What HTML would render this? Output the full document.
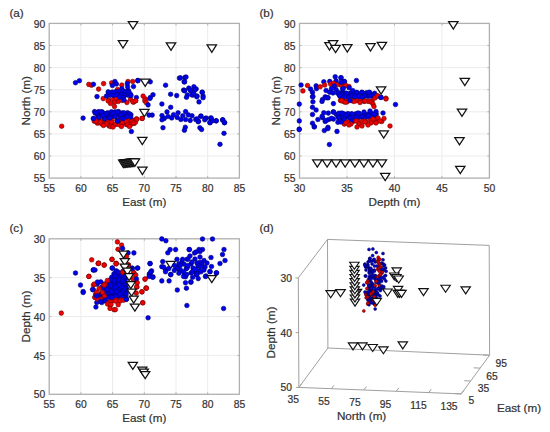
<!DOCTYPE html><html><head><meta charset="utf-8"><style>html,body{margin:0;padding:0;background:#fff;}svg{display:block;font-family:"Liberation Sans",sans-serif;}text{stroke:#333;stroke-width:0.22px;}</style></head><body>
<svg width="550" height="432" viewBox="0 0 550 432">
<rect width="550" height="432" fill="#fff"/>
<line x1="80.90" y1="23.4" x2="80.90" y2="178.1" stroke="#ececec" stroke-width="1"/>
<line x1="112.60" y1="23.4" x2="112.60" y2="178.1" stroke="#ececec" stroke-width="1"/>
<line x1="144.30" y1="23.4" x2="144.30" y2="178.1" stroke="#ececec" stroke-width="1"/>
<line x1="176.00" y1="23.4" x2="176.00" y2="178.1" stroke="#ececec" stroke-width="1"/>
<line x1="207.70" y1="23.4" x2="207.70" y2="178.1" stroke="#ececec" stroke-width="1"/>
<line x1="49.2" y1="45.50" x2="239.4" y2="45.50" stroke="#ececec" stroke-width="1"/>
<line x1="49.2" y1="67.60" x2="239.4" y2="67.60" stroke="#ececec" stroke-width="1"/>
<line x1="49.2" y1="89.70" x2="239.4" y2="89.70" stroke="#ececec" stroke-width="1"/>
<line x1="49.2" y1="111.80" x2="239.4" y2="111.80" stroke="#ececec" stroke-width="1"/>
<line x1="49.2" y1="133.90" x2="239.4" y2="133.90" stroke="#ececec" stroke-width="1"/>
<line x1="49.2" y1="156.00" x2="239.4" y2="156.00" stroke="#ececec" stroke-width="1"/>
<rect x="49.2" y="23.4" width="190.2" height="154.7" fill="none" stroke="#b0b0b0" stroke-width="1.3"/>
<line x1="80.90" y1="178.1" x2="80.90" y2="176.1" stroke="#b0b0b0" stroke-width="1"/>
<line x1="80.90" y1="23.4" x2="80.90" y2="25.4" stroke="#b0b0b0" stroke-width="1"/>
<line x1="112.60" y1="178.1" x2="112.60" y2="176.1" stroke="#b0b0b0" stroke-width="1"/>
<line x1="112.60" y1="23.4" x2="112.60" y2="25.4" stroke="#b0b0b0" stroke-width="1"/>
<line x1="144.30" y1="178.1" x2="144.30" y2="176.1" stroke="#b0b0b0" stroke-width="1"/>
<line x1="144.30" y1="23.4" x2="144.30" y2="25.4" stroke="#b0b0b0" stroke-width="1"/>
<line x1="176.00" y1="178.1" x2="176.00" y2="176.1" stroke="#b0b0b0" stroke-width="1"/>
<line x1="176.00" y1="23.4" x2="176.00" y2="25.4" stroke="#b0b0b0" stroke-width="1"/>
<line x1="207.70" y1="178.1" x2="207.70" y2="176.1" stroke="#b0b0b0" stroke-width="1"/>
<line x1="207.70" y1="23.4" x2="207.70" y2="25.4" stroke="#b0b0b0" stroke-width="1"/>
<line x1="49.2" y1="45.50" x2="51.2" y2="45.50" stroke="#b0b0b0" stroke-width="1"/>
<line x1="239.4" y1="45.50" x2="237.4" y2="45.50" stroke="#b0b0b0" stroke-width="1"/>
<line x1="49.2" y1="67.60" x2="51.2" y2="67.60" stroke="#b0b0b0" stroke-width="1"/>
<line x1="239.4" y1="67.60" x2="237.4" y2="67.60" stroke="#b0b0b0" stroke-width="1"/>
<line x1="49.2" y1="89.70" x2="51.2" y2="89.70" stroke="#b0b0b0" stroke-width="1"/>
<line x1="239.4" y1="89.70" x2="237.4" y2="89.70" stroke="#b0b0b0" stroke-width="1"/>
<line x1="49.2" y1="111.80" x2="51.2" y2="111.80" stroke="#b0b0b0" stroke-width="1"/>
<line x1="239.4" y1="111.80" x2="237.4" y2="111.80" stroke="#b0b0b0" stroke-width="1"/>
<line x1="49.2" y1="133.90" x2="51.2" y2="133.90" stroke="#b0b0b0" stroke-width="1"/>
<line x1="239.4" y1="133.90" x2="237.4" y2="133.90" stroke="#b0b0b0" stroke-width="1"/>
<line x1="49.2" y1="156.00" x2="51.2" y2="156.00" stroke="#b0b0b0" stroke-width="1"/>
<line x1="239.4" y1="156.00" x2="237.4" y2="156.00" stroke="#b0b0b0" stroke-width="1"/>
<text x="49.20" y="191.90" font-size="10.3" text-anchor="middle" fill="#333333">55</text>
<text x="80.90" y="191.90" font-size="10.3" text-anchor="middle" fill="#333333">60</text>
<text x="112.60" y="191.90" font-size="10.3" text-anchor="middle" fill="#333333">65</text>
<text x="144.30" y="191.90" font-size="10.3" text-anchor="middle" fill="#333333">70</text>
<text x="176.00" y="191.90" font-size="10.3" text-anchor="middle" fill="#333333">75</text>
<text x="207.70" y="191.90" font-size="10.3" text-anchor="middle" fill="#333333">80</text>
<text x="239.40" y="191.90" font-size="10.3" text-anchor="middle" fill="#333333">85</text>
<text x="45.20" y="27.50" font-size="10.3" text-anchor="end" fill="#333333">90</text>
<text x="45.20" y="49.60" font-size="10.3" text-anchor="end" fill="#333333">85</text>
<text x="45.20" y="71.70" font-size="10.3" text-anchor="end" fill="#333333">80</text>
<text x="45.20" y="93.80" font-size="10.3" text-anchor="end" fill="#333333">75</text>
<text x="45.20" y="115.90" font-size="10.3" text-anchor="end" fill="#333333">70</text>
<text x="45.20" y="138.00" font-size="10.3" text-anchor="end" fill="#333333">65</text>
<text x="45.20" y="160.10" font-size="10.3" text-anchor="end" fill="#333333">60</text>
<text x="45.20" y="182.20" font-size="10.3" text-anchor="end" fill="#333333">55</text>
<text x="144.30" y="206.00" font-size="11.7" text-anchor="middle" fill="#333333">East (m)</text>
<text transform="translate(29.60,100.75) rotate(-90)" font-size="11.7" text-anchor="middle" fill="#333333">North (m)</text>
<text x="9.4" y="17.2" font-size="11.7" fill="#333333">(a)</text>
<line x1="346.98" y1="23.4" x2="346.98" y2="178.1" stroke="#ececec" stroke-width="1"/>
<line x1="394.45" y1="23.4" x2="394.45" y2="178.1" stroke="#ececec" stroke-width="1"/>
<line x1="441.92" y1="23.4" x2="441.92" y2="178.1" stroke="#ececec" stroke-width="1"/>
<line x1="299.5" y1="45.50" x2="489.4" y2="45.50" stroke="#ececec" stroke-width="1"/>
<line x1="299.5" y1="67.60" x2="489.4" y2="67.60" stroke="#ececec" stroke-width="1"/>
<line x1="299.5" y1="89.70" x2="489.4" y2="89.70" stroke="#ececec" stroke-width="1"/>
<line x1="299.5" y1="111.80" x2="489.4" y2="111.80" stroke="#ececec" stroke-width="1"/>
<line x1="299.5" y1="133.90" x2="489.4" y2="133.90" stroke="#ececec" stroke-width="1"/>
<line x1="299.5" y1="156.00" x2="489.4" y2="156.00" stroke="#ececec" stroke-width="1"/>
<rect x="299.5" y="23.4" width="189.89999999999998" height="154.7" fill="none" stroke="#b0b0b0" stroke-width="1.3"/>
<line x1="346.98" y1="178.1" x2="346.98" y2="176.1" stroke="#b0b0b0" stroke-width="1"/>
<line x1="346.98" y1="23.4" x2="346.98" y2="25.4" stroke="#b0b0b0" stroke-width="1"/>
<line x1="394.45" y1="178.1" x2="394.45" y2="176.1" stroke="#b0b0b0" stroke-width="1"/>
<line x1="394.45" y1="23.4" x2="394.45" y2="25.4" stroke="#b0b0b0" stroke-width="1"/>
<line x1="441.92" y1="178.1" x2="441.92" y2="176.1" stroke="#b0b0b0" stroke-width="1"/>
<line x1="441.92" y1="23.4" x2="441.92" y2="25.4" stroke="#b0b0b0" stroke-width="1"/>
<line x1="299.5" y1="45.50" x2="301.5" y2="45.50" stroke="#b0b0b0" stroke-width="1"/>
<line x1="489.4" y1="45.50" x2="487.4" y2="45.50" stroke="#b0b0b0" stroke-width="1"/>
<line x1="299.5" y1="67.60" x2="301.5" y2="67.60" stroke="#b0b0b0" stroke-width="1"/>
<line x1="489.4" y1="67.60" x2="487.4" y2="67.60" stroke="#b0b0b0" stroke-width="1"/>
<line x1="299.5" y1="89.70" x2="301.5" y2="89.70" stroke="#b0b0b0" stroke-width="1"/>
<line x1="489.4" y1="89.70" x2="487.4" y2="89.70" stroke="#b0b0b0" stroke-width="1"/>
<line x1="299.5" y1="111.80" x2="301.5" y2="111.80" stroke="#b0b0b0" stroke-width="1"/>
<line x1="489.4" y1="111.80" x2="487.4" y2="111.80" stroke="#b0b0b0" stroke-width="1"/>
<line x1="299.5" y1="133.90" x2="301.5" y2="133.90" stroke="#b0b0b0" stroke-width="1"/>
<line x1="489.4" y1="133.90" x2="487.4" y2="133.90" stroke="#b0b0b0" stroke-width="1"/>
<line x1="299.5" y1="156.00" x2="301.5" y2="156.00" stroke="#b0b0b0" stroke-width="1"/>
<line x1="489.4" y1="156.00" x2="487.4" y2="156.00" stroke="#b0b0b0" stroke-width="1"/>
<text x="299.50" y="191.90" font-size="10.3" text-anchor="middle" fill="#333333">30</text>
<text x="346.98" y="191.90" font-size="10.3" text-anchor="middle" fill="#333333">35</text>
<text x="394.45" y="191.90" font-size="10.3" text-anchor="middle" fill="#333333">40</text>
<text x="441.92" y="191.90" font-size="10.3" text-anchor="middle" fill="#333333">45</text>
<text x="489.40" y="191.90" font-size="10.3" text-anchor="middle" fill="#333333">50</text>
<text x="295.50" y="27.50" font-size="10.3" text-anchor="end" fill="#333333">90</text>
<text x="295.50" y="49.60" font-size="10.3" text-anchor="end" fill="#333333">85</text>
<text x="295.50" y="71.70" font-size="10.3" text-anchor="end" fill="#333333">80</text>
<text x="295.50" y="93.80" font-size="10.3" text-anchor="end" fill="#333333">75</text>
<text x="295.50" y="115.90" font-size="10.3" text-anchor="end" fill="#333333">70</text>
<text x="295.50" y="138.00" font-size="10.3" text-anchor="end" fill="#333333">65</text>
<text x="295.50" y="160.10" font-size="10.3" text-anchor="end" fill="#333333">60</text>
<text x="295.50" y="182.20" font-size="10.3" text-anchor="end" fill="#333333">55</text>
<text x="394.45" y="206.00" font-size="11.7" text-anchor="middle" fill="#333333">Depth (m)</text>
<text transform="translate(279.60,100.75) rotate(-90)" font-size="11.7" text-anchor="middle" fill="#333333">North (m)</text>
<text x="259.4" y="17.2" font-size="11.7" fill="#333333">(b)</text>
<line x1="80.90" y1="238.8" x2="80.90" y2="394.3" stroke="#ececec" stroke-width="1"/>
<line x1="112.60" y1="238.8" x2="112.60" y2="394.3" stroke="#ececec" stroke-width="1"/>
<line x1="144.30" y1="238.8" x2="144.30" y2="394.3" stroke="#ececec" stroke-width="1"/>
<line x1="176.00" y1="238.8" x2="176.00" y2="394.3" stroke="#ececec" stroke-width="1"/>
<line x1="207.70" y1="238.8" x2="207.70" y2="394.3" stroke="#ececec" stroke-width="1"/>
<line x1="49.2" y1="277.68" x2="239.4" y2="277.68" stroke="#ececec" stroke-width="1"/>
<line x1="49.2" y1="316.55" x2="239.4" y2="316.55" stroke="#ececec" stroke-width="1"/>
<line x1="49.2" y1="355.43" x2="239.4" y2="355.43" stroke="#ececec" stroke-width="1"/>
<rect x="49.2" y="238.8" width="190.2" height="155.5" fill="none" stroke="#b0b0b0" stroke-width="1.3"/>
<line x1="80.90" y1="394.3" x2="80.90" y2="392.3" stroke="#b0b0b0" stroke-width="1"/>
<line x1="80.90" y1="238.8" x2="80.90" y2="240.8" stroke="#b0b0b0" stroke-width="1"/>
<line x1="112.60" y1="394.3" x2="112.60" y2="392.3" stroke="#b0b0b0" stroke-width="1"/>
<line x1="112.60" y1="238.8" x2="112.60" y2="240.8" stroke="#b0b0b0" stroke-width="1"/>
<line x1="144.30" y1="394.3" x2="144.30" y2="392.3" stroke="#b0b0b0" stroke-width="1"/>
<line x1="144.30" y1="238.8" x2="144.30" y2="240.8" stroke="#b0b0b0" stroke-width="1"/>
<line x1="176.00" y1="394.3" x2="176.00" y2="392.3" stroke="#b0b0b0" stroke-width="1"/>
<line x1="176.00" y1="238.8" x2="176.00" y2="240.8" stroke="#b0b0b0" stroke-width="1"/>
<line x1="207.70" y1="394.3" x2="207.70" y2="392.3" stroke="#b0b0b0" stroke-width="1"/>
<line x1="207.70" y1="238.8" x2="207.70" y2="240.8" stroke="#b0b0b0" stroke-width="1"/>
<line x1="49.2" y1="277.68" x2="51.2" y2="277.68" stroke="#b0b0b0" stroke-width="1"/>
<line x1="239.4" y1="277.68" x2="237.4" y2="277.68" stroke="#b0b0b0" stroke-width="1"/>
<line x1="49.2" y1="316.55" x2="51.2" y2="316.55" stroke="#b0b0b0" stroke-width="1"/>
<line x1="239.4" y1="316.55" x2="237.4" y2="316.55" stroke="#b0b0b0" stroke-width="1"/>
<line x1="49.2" y1="355.43" x2="51.2" y2="355.43" stroke="#b0b0b0" stroke-width="1"/>
<line x1="239.4" y1="355.43" x2="237.4" y2="355.43" stroke="#b0b0b0" stroke-width="1"/>
<text x="49.20" y="408.10" font-size="10.3" text-anchor="middle" fill="#333333">55</text>
<text x="80.90" y="408.10" font-size="10.3" text-anchor="middle" fill="#333333">60</text>
<text x="112.60" y="408.10" font-size="10.3" text-anchor="middle" fill="#333333">65</text>
<text x="144.30" y="408.10" font-size="10.3" text-anchor="middle" fill="#333333">70</text>
<text x="176.00" y="408.10" font-size="10.3" text-anchor="middle" fill="#333333">75</text>
<text x="207.70" y="408.10" font-size="10.3" text-anchor="middle" fill="#333333">80</text>
<text x="239.40" y="408.10" font-size="10.3" text-anchor="middle" fill="#333333">85</text>
<text x="45.20" y="242.90" font-size="10.3" text-anchor="end" fill="#333333">30</text>
<text x="45.20" y="281.78" font-size="10.3" text-anchor="end" fill="#333333">35</text>
<text x="45.20" y="320.65" font-size="10.3" text-anchor="end" fill="#333333">40</text>
<text x="45.20" y="359.53" font-size="10.3" text-anchor="end" fill="#333333">45</text>
<text x="45.20" y="398.40" font-size="10.3" text-anchor="end" fill="#333333">50</text>
<text x="144.30" y="422.00" font-size="11.7" text-anchor="middle" fill="#333333">East (m)</text>
<text transform="translate(29.60,316.55) rotate(-90)" font-size="11.7" text-anchor="middle" fill="#333333">Depth (m)</text>
<text x="9.4" y="232.4" font-size="11.7" fill="#333333">(c)</text>
<circle cx="94.6" cy="120.4" r="2.3" fill="#f00000" stroke="#700000" stroke-width="0.6"/>
<circle cx="99.0" cy="120.5" r="2.3" fill="#f00000" stroke="#700000" stroke-width="0.6"/>
<circle cx="103.6" cy="119.6" r="2.3" fill="#f00000" stroke="#700000" stroke-width="0.6"/>
<circle cx="106.8" cy="120.8" r="2.3" fill="#f00000" stroke="#700000" stroke-width="0.6"/>
<circle cx="111.4" cy="119.9" r="2.3" fill="#f00000" stroke="#700000" stroke-width="0.6"/>
<circle cx="116.8" cy="120.3" r="2.3" fill="#f00000" stroke="#700000" stroke-width="0.6"/>
<circle cx="120.7" cy="120.3" r="2.3" fill="#f00000" stroke="#700000" stroke-width="0.6"/>
<circle cx="124.6" cy="119.7" r="2.3" fill="#f00000" stroke="#700000" stroke-width="0.6"/>
<circle cx="128.8" cy="120.9" r="2.3" fill="#f00000" stroke="#700000" stroke-width="0.6"/>
<circle cx="132.8" cy="120.7" r="2.3" fill="#f00000" stroke="#700000" stroke-width="0.6"/>
<circle cx="97.4" cy="123.2" r="2.3" fill="#f00000" stroke="#700000" stroke-width="0.6"/>
<circle cx="101.7" cy="124.0" r="2.3" fill="#f00000" stroke="#700000" stroke-width="0.6"/>
<circle cx="105.2" cy="123.1" r="2.3" fill="#f00000" stroke="#700000" stroke-width="0.6"/>
<circle cx="110.3" cy="123.8" r="2.3" fill="#f00000" stroke="#700000" stroke-width="0.6"/>
<circle cx="114.3" cy="124.5" r="2.3" fill="#f00000" stroke="#700000" stroke-width="0.6"/>
<circle cx="118.4" cy="124.5" r="2.3" fill="#f00000" stroke="#700000" stroke-width="0.6"/>
<circle cx="122.1" cy="124.4" r="2.3" fill="#f00000" stroke="#700000" stroke-width="0.6"/>
<circle cx="126.4" cy="124.6" r="2.3" fill="#f00000" stroke="#700000" stroke-width="0.6"/>
<circle cx="131.3" cy="123.2" r="2.3" fill="#f00000" stroke="#700000" stroke-width="0.6"/>
<circle cx="134.3" cy="123.4" r="2.3" fill="#f00000" stroke="#700000" stroke-width="0.6"/>
<circle cx="94.6" cy="111.6" r="2.3" fill="#0000f0" stroke="#000070" stroke-width="0.6"/>
<circle cx="98.8" cy="111.6" r="2.3" fill="#0000f0" stroke="#000070" stroke-width="0.6"/>
<circle cx="102.3" cy="112.0" r="2.3" fill="#0000f0" stroke="#000070" stroke-width="0.6"/>
<circle cx="107.7" cy="112.7" r="2.3" fill="#0000f0" stroke="#000070" stroke-width="0.6"/>
<circle cx="111.4" cy="111.8" r="2.3" fill="#0000f0" stroke="#000070" stroke-width="0.6"/>
<circle cx="115.1" cy="111.8" r="2.3" fill="#0000f0" stroke="#000070" stroke-width="0.6"/>
<circle cx="118.5" cy="111.6" r="2.3" fill="#0000f0" stroke="#000070" stroke-width="0.6"/>
<circle cx="122.5" cy="112.9" r="2.3" fill="#0000f0" stroke="#000070" stroke-width="0.6"/>
<circle cx="127.5" cy="112.7" r="2.3" fill="#0000f0" stroke="#000070" stroke-width="0.6"/>
<circle cx="97.5" cy="115.1" r="2.3" fill="#0000f0" stroke="#000070" stroke-width="0.6"/>
<circle cx="100.7" cy="115.8" r="2.3" fill="#0000f0" stroke="#000070" stroke-width="0.6"/>
<circle cx="105.4" cy="116.2" r="2.3" fill="#0000f0" stroke="#000070" stroke-width="0.6"/>
<circle cx="109.6" cy="114.9" r="2.3" fill="#0000f0" stroke="#000070" stroke-width="0.6"/>
<circle cx="113.2" cy="115.9" r="2.3" fill="#0000f0" stroke="#000070" stroke-width="0.6"/>
<circle cx="117.0" cy="115.1" r="2.3" fill="#0000f0" stroke="#000070" stroke-width="0.6"/>
<circle cx="121.0" cy="114.9" r="2.3" fill="#0000f0" stroke="#000070" stroke-width="0.6"/>
<circle cx="125.7" cy="116.2" r="2.3" fill="#0000f0" stroke="#000070" stroke-width="0.6"/>
<circle cx="129.1" cy="115.3" r="2.3" fill="#0000f0" stroke="#000070" stroke-width="0.6"/>
<circle cx="108.2" cy="91.9" r="2.3" fill="#0000f0" stroke="#000070" stroke-width="0.6"/>
<circle cx="112.5" cy="92.2" r="2.3" fill="#0000f0" stroke="#000070" stroke-width="0.6"/>
<circle cx="116.4" cy="92.2" r="2.3" fill="#0000f0" stroke="#000070" stroke-width="0.6"/>
<circle cx="119.2" cy="91.4" r="2.3" fill="#0000f0" stroke="#000070" stroke-width="0.6"/>
<circle cx="124.7" cy="91.7" r="2.3" fill="#0000f0" stroke="#000070" stroke-width="0.6"/>
<circle cx="128.6" cy="90.9" r="2.3" fill="#0000f0" stroke="#000070" stroke-width="0.6"/>
<circle cx="110.0" cy="94.5" r="2.3" fill="#0000f0" stroke="#000070" stroke-width="0.6"/>
<circle cx="114.1" cy="95.0" r="2.3" fill="#0000f0" stroke="#000070" stroke-width="0.6"/>
<circle cx="117.2" cy="94.4" r="2.3" fill="#0000f0" stroke="#000070" stroke-width="0.6"/>
<circle cx="121.6" cy="95.6" r="2.3" fill="#0000f0" stroke="#000070" stroke-width="0.6"/>
<circle cx="126.4" cy="94.4" r="2.3" fill="#0000f0" stroke="#000070" stroke-width="0.6"/>
<circle cx="130.5" cy="94.3" r="2.3" fill="#0000f0" stroke="#000070" stroke-width="0.6"/>
<circle cx="75.5" cy="82.7" r="2.3" fill="#0000f0" stroke="#000070" stroke-width="0.6"/>
<circle cx="79.4" cy="80.7" r="2.3" fill="#0000f0" stroke="#000070" stroke-width="0.6"/>
<circle cx="88.8" cy="84.4" r="2.3" fill="#f00000" stroke="#700000" stroke-width="0.6"/>
<circle cx="91.4" cy="85.3" r="2.3" fill="#f00000" stroke="#700000" stroke-width="0.6"/>
<circle cx="93.4" cy="84.3" r="2.3" fill="#0000f0" stroke="#000070" stroke-width="0.6"/>
<circle cx="103.6" cy="83.6" r="2.3" fill="#f00000" stroke="#700000" stroke-width="0.6"/>
<circle cx="98.6" cy="89.1" r="2.3" fill="#f00000" stroke="#700000" stroke-width="0.6"/>
<circle cx="97.0" cy="96.6" r="2.3" fill="#0000f0" stroke="#000070" stroke-width="0.6"/>
<circle cx="103.2" cy="98.6" r="2.3" fill="#f00000" stroke="#700000" stroke-width="0.6"/>
<circle cx="111.6" cy="82.9" r="2.3" fill="#f00000" stroke="#700000" stroke-width="0.6"/>
<circle cx="114.9" cy="81.5" r="2.3" fill="#0000f0" stroke="#000070" stroke-width="0.6"/>
<circle cx="116.4" cy="84.0" r="2.3" fill="#0000f0" stroke="#000070" stroke-width="0.6"/>
<circle cx="112.4" cy="85.5" r="2.3" fill="#0000f0" stroke="#000070" stroke-width="0.6"/>
<circle cx="121.8" cy="85.1" r="2.3" fill="#f00000" stroke="#700000" stroke-width="0.6"/>
<circle cx="117.5" cy="89.5" r="2.3" fill="#f00000" stroke="#700000" stroke-width="0.6"/>
<circle cx="121.8" cy="88.7" r="2.3" fill="#0000f0" stroke="#000070" stroke-width="0.6"/>
<circle cx="128.0" cy="81.5" r="2.3" fill="#f00000" stroke="#700000" stroke-width="0.6"/>
<circle cx="127.3" cy="83.6" r="2.3" fill="#0000f0" stroke="#000070" stroke-width="0.6"/>
<circle cx="127.6" cy="86.9" r="2.3" fill="#0000f0" stroke="#000070" stroke-width="0.6"/>
<circle cx="132.7" cy="81.5" r="2.3" fill="#f00000" stroke="#700000" stroke-width="0.6"/>
<circle cx="137.8" cy="80.4" r="2.3" fill="#0000f0" stroke="#000070" stroke-width="0.6"/>
<circle cx="133.5" cy="86.5" r="2.3" fill="#0000f0" stroke="#000070" stroke-width="0.6"/>
<circle cx="108.7" cy="100.0" r="2.3" fill="#f00000" stroke="#700000" stroke-width="0.6"/>
<circle cx="113.5" cy="99.3" r="2.3" fill="#f00000" stroke="#700000" stroke-width="0.6"/>
<circle cx="118.2" cy="101.5" r="2.3" fill="#f00000" stroke="#700000" stroke-width="0.6"/>
<circle cx="114.5" cy="102.2" r="2.3" fill="#f00000" stroke="#700000" stroke-width="0.6"/>
<circle cx="114.5" cy="106.5" r="2.3" fill="#f00000" stroke="#700000" stroke-width="0.6"/>
<circle cx="126.9" cy="102.5" r="2.3" fill="#f00000" stroke="#700000" stroke-width="0.6"/>
<circle cx="130.5" cy="99.3" r="2.3" fill="#f00000" stroke="#700000" stroke-width="0.6"/>
<circle cx="133.5" cy="102.2" r="2.3" fill="#f00000" stroke="#700000" stroke-width="0.6"/>
<circle cx="135.6" cy="100.7" r="2.3" fill="#f00000" stroke="#700000" stroke-width="0.6"/>
<circle cx="108.1" cy="100.9" r="2.3" fill="#f00000" stroke="#700000" stroke-width="0.6"/>
<circle cx="110.5" cy="103.5" r="2.3" fill="#f00000" stroke="#700000" stroke-width="0.6"/>
<circle cx="122.0" cy="100.5" r="2.3" fill="#f00000" stroke="#700000" stroke-width="0.6"/>
<circle cx="116.0" cy="98.5" r="2.3" fill="#f00000" stroke="#700000" stroke-width="0.6"/>
<circle cx="108.7" cy="93.0" r="2.3" fill="#0000f0" stroke="#000070" stroke-width="0.6"/>
<circle cx="112.0" cy="92.3" r="2.3" fill="#0000f0" stroke="#000070" stroke-width="0.6"/>
<circle cx="115.6" cy="91.7" r="2.3" fill="#0000f0" stroke="#000070" stroke-width="0.6"/>
<circle cx="118.9" cy="91.3" r="2.3" fill="#0000f0" stroke="#000070" stroke-width="0.6"/>
<circle cx="122.5" cy="90.9" r="2.3" fill="#0000f0" stroke="#000070" stroke-width="0.6"/>
<circle cx="126.2" cy="91.7" r="2.3" fill="#0000f0" stroke="#000070" stroke-width="0.6"/>
<circle cx="129.1" cy="92.5" r="2.3" fill="#0000f0" stroke="#000070" stroke-width="0.6"/>
<circle cx="110.2" cy="95.3" r="2.3" fill="#0000f0" stroke="#000070" stroke-width="0.6"/>
<circle cx="113.8" cy="95.3" r="2.3" fill="#0000f0" stroke="#000070" stroke-width="0.6"/>
<circle cx="117.5" cy="94.9" r="2.3" fill="#0000f0" stroke="#000070" stroke-width="0.6"/>
<circle cx="121.1" cy="94.5" r="2.3" fill="#0000f0" stroke="#000070" stroke-width="0.6"/>
<circle cx="124.7" cy="95.3" r="2.3" fill="#0000f0" stroke="#000070" stroke-width="0.6"/>
<circle cx="128.4" cy="95.3" r="2.3" fill="#0000f0" stroke="#000070" stroke-width="0.6"/>
<circle cx="119.6" cy="97.1" r="2.3" fill="#0000f0" stroke="#000070" stroke-width="0.6"/>
<circle cx="123.3" cy="97.5" r="2.3" fill="#0000f0" stroke="#000070" stroke-width="0.6"/>
<circle cx="124.0" cy="100.0" r="2.3" fill="#0000f0" stroke="#000070" stroke-width="0.6"/>
<circle cx="106.5" cy="96.0" r="2.3" fill="#0000f0" stroke="#000070" stroke-width="0.6"/>
<circle cx="131.0" cy="95.5" r="2.3" fill="#0000f0" stroke="#000070" stroke-width="0.6"/>
<circle cx="136.4" cy="97.5" r="2.3" fill="#0000f0" stroke="#000070" stroke-width="0.6"/>
<circle cx="137.8" cy="80.8" r="2.3" fill="#0000f0" stroke="#000070" stroke-width="0.6"/>
<circle cx="150.3" cy="81.8" r="2.3" fill="#0000f0" stroke="#000070" stroke-width="0.6"/>
<circle cx="165.6" cy="85.2" r="2.3" fill="#0000f0" stroke="#000070" stroke-width="0.6"/>
<circle cx="179.4" cy="78.1" r="2.3" fill="#0000f0" stroke="#000070" stroke-width="0.6"/>
<circle cx="184.1" cy="81.8" r="2.3" fill="#0000f0" stroke="#000070" stroke-width="0.6"/>
<circle cx="185.0" cy="77.5" r="2.3" fill="#0000f0" stroke="#000070" stroke-width="0.6"/>
<circle cx="170.6" cy="94.3" r="2.3" fill="#0000f0" stroke="#000070" stroke-width="0.6"/>
<circle cx="176.7" cy="95.6" r="2.3" fill="#0000f0" stroke="#000070" stroke-width="0.6"/>
<circle cx="183.6" cy="90.1" r="2.3" fill="#0000f0" stroke="#000070" stroke-width="0.6"/>
<circle cx="153.0" cy="94.7" r="2.3" fill="#0000f0" stroke="#000070" stroke-width="0.6"/>
<circle cx="150.3" cy="97.5" r="2.3" fill="#0000f0" stroke="#000070" stroke-width="0.6"/>
<circle cx="143.1" cy="96.1" r="2.3" fill="#f00000" stroke="#700000" stroke-width="0.6"/>
<circle cx="145.2" cy="98.9" r="2.3" fill="#f00000" stroke="#700000" stroke-width="0.6"/>
<circle cx="180.5" cy="77.9" r="2.3" fill="#0000f0" stroke="#000070" stroke-width="0.6"/>
<circle cx="186.0" cy="77.0" r="2.3" fill="#0000f0" stroke="#000070" stroke-width="0.6"/>
<circle cx="184.6" cy="81.9" r="2.3" fill="#0000f0" stroke="#000070" stroke-width="0.6"/>
<circle cx="184.6" cy="90.4" r="2.3" fill="#0000f0" stroke="#000070" stroke-width="0.6"/>
<circle cx="188.8" cy="88.1" r="2.3" fill="#0000f0" stroke="#000070" stroke-width="0.6"/>
<circle cx="193.9" cy="86.7" r="2.3" fill="#0000f0" stroke="#000070" stroke-width="0.6"/>
<circle cx="196.2" cy="89.0" r="2.3" fill="#0000f0" stroke="#000070" stroke-width="0.6"/>
<circle cx="191.1" cy="91.3" r="2.3" fill="#0000f0" stroke="#000070" stroke-width="0.6"/>
<circle cx="187.4" cy="95.0" r="2.3" fill="#0000f0" stroke="#000070" stroke-width="0.6"/>
<circle cx="193.0" cy="95.0" r="2.3" fill="#0000f0" stroke="#000070" stroke-width="0.6"/>
<circle cx="197.1" cy="96.0" r="2.3" fill="#0000f0" stroke="#000070" stroke-width="0.6"/>
<circle cx="202.2" cy="92.3" r="2.3" fill="#0000f0" stroke="#000070" stroke-width="0.6"/>
<circle cx="203.1" cy="96.0" r="2.3" fill="#0000f0" stroke="#000070" stroke-width="0.6"/>
<circle cx="184.6" cy="90.8" r="2.3" fill="#0000f0" stroke="#000070" stroke-width="0.6"/>
<circle cx="190.2" cy="89.9" r="2.3" fill="#0000f0" stroke="#000070" stroke-width="0.6"/>
<circle cx="194.8" cy="89.9" r="2.3" fill="#0000f0" stroke="#000070" stroke-width="0.6"/>
<circle cx="202.2" cy="92.2" r="2.3" fill="#0000f0" stroke="#000070" stroke-width="0.6"/>
<circle cx="186.5" cy="97.3" r="2.3" fill="#0000f0" stroke="#000070" stroke-width="0.6"/>
<circle cx="192.0" cy="95.0" r="2.3" fill="#0000f0" stroke="#000070" stroke-width="0.6"/>
<circle cx="196.7" cy="96.8" r="2.3" fill="#0000f0" stroke="#000070" stroke-width="0.6"/>
<circle cx="203.1" cy="97.7" r="2.3" fill="#0000f0" stroke="#000070" stroke-width="0.6"/>
<circle cx="199.0" cy="101.9" r="2.3" fill="#0000f0" stroke="#000070" stroke-width="0.6"/>
<circle cx="193.9" cy="93.6" r="2.3" fill="#0000f0" stroke="#000070" stroke-width="0.6"/>
<circle cx="185.6" cy="111.6" r="2.3" fill="#0000f0" stroke="#000070" stroke-width="0.6"/>
<circle cx="182.8" cy="115.8" r="2.3" fill="#0000f0" stroke="#000070" stroke-width="0.6"/>
<circle cx="188.3" cy="114.9" r="2.3" fill="#0000f0" stroke="#000070" stroke-width="0.6"/>
<circle cx="192.0" cy="115.8" r="2.3" fill="#0000f0" stroke="#000070" stroke-width="0.6"/>
<circle cx="180.9" cy="119.5" r="2.3" fill="#0000f0" stroke="#000070" stroke-width="0.6"/>
<circle cx="185.6" cy="119.5" r="2.3" fill="#0000f0" stroke="#000070" stroke-width="0.6"/>
<circle cx="190.2" cy="120.4" r="2.3" fill="#0000f0" stroke="#000070" stroke-width="0.6"/>
<circle cx="195.7" cy="119.5" r="2.3" fill="#0000f0" stroke="#000070" stroke-width="0.6"/>
<circle cx="198.5" cy="121.3" r="2.3" fill="#0000f0" stroke="#000070" stroke-width="0.6"/>
<circle cx="200.8" cy="116.2" r="2.3" fill="#0000f0" stroke="#000070" stroke-width="0.6"/>
<circle cx="205.5" cy="118.6" r="2.3" fill="#0000f0" stroke="#000070" stroke-width="0.6"/>
<circle cx="210.6" cy="118.1" r="2.3" fill="#0000f0" stroke="#000070" stroke-width="0.6"/>
<circle cx="210.1" cy="122.7" r="2.3" fill="#0000f0" stroke="#000070" stroke-width="0.6"/>
<circle cx="216.1" cy="120.9" r="2.3" fill="#0000f0" stroke="#000070" stroke-width="0.6"/>
<circle cx="222.6" cy="119.9" r="2.3" fill="#0000f0" stroke="#000070" stroke-width="0.6"/>
<circle cx="224.4" cy="122.7" r="2.3" fill="#0000f0" stroke="#000070" stroke-width="0.6"/>
<circle cx="185.3" cy="127.2" r="2.3" fill="#0000f0" stroke="#000070" stroke-width="0.6"/>
<circle cx="184.4" cy="130.3" r="2.3" fill="#0000f0" stroke="#000070" stroke-width="0.6"/>
<circle cx="199.9" cy="127.8" r="2.3" fill="#0000f0" stroke="#000070" stroke-width="0.6"/>
<circle cx="201.6" cy="129.5" r="2.3" fill="#0000f0" stroke="#000070" stroke-width="0.6"/>
<circle cx="132.8" cy="101.7" r="2.3" fill="#f00000" stroke="#700000" stroke-width="0.6"/>
<circle cx="135.6" cy="100.8" r="2.3" fill="#f00000" stroke="#700000" stroke-width="0.6"/>
<circle cx="144.8" cy="100.8" r="2.3" fill="#f00000" stroke="#700000" stroke-width="0.6"/>
<circle cx="146.2" cy="102.6" r="2.3" fill="#f00000" stroke="#700000" stroke-width="0.6"/>
<circle cx="148.1" cy="104.9" r="2.3" fill="#0000f0" stroke="#000070" stroke-width="0.6"/>
<circle cx="149.9" cy="98.5" r="2.3" fill="#0000f0" stroke="#000070" stroke-width="0.6"/>
<circle cx="161.9" cy="104.0" r="2.3" fill="#0000f0" stroke="#000070" stroke-width="0.6"/>
<circle cx="149.0" cy="115.1" r="2.3" fill="#0000f0" stroke="#000070" stroke-width="0.6"/>
<circle cx="152.2" cy="115.1" r="2.3" fill="#0000f0" stroke="#000070" stroke-width="0.6"/>
<circle cx="142.0" cy="118.4" r="2.3" fill="#f00000" stroke="#700000" stroke-width="0.6"/>
<circle cx="136.5" cy="118.8" r="2.3" fill="#f00000" stroke="#700000" stroke-width="0.6"/>
<circle cx="132.8" cy="120.7" r="2.3" fill="#f00000" stroke="#700000" stroke-width="0.6"/>
<circle cx="130.9" cy="124.4" r="2.3" fill="#f00000" stroke="#700000" stroke-width="0.6"/>
<circle cx="135.6" cy="122.0" r="2.3" fill="#f00000" stroke="#700000" stroke-width="0.6"/>
<circle cx="130.9" cy="114.7" r="2.3" fill="#0000f0" stroke="#000070" stroke-width="0.6"/>
<circle cx="162.0" cy="115.6" r="2.3" fill="#0000f0" stroke="#000070" stroke-width="0.6"/>
<circle cx="167.0" cy="111.9" r="2.3" fill="#0000f0" stroke="#000070" stroke-width="0.6"/>
<circle cx="170.7" cy="107.3" r="2.3" fill="#0000f0" stroke="#000070" stroke-width="0.6"/>
<circle cx="168.0" cy="116.5" r="2.3" fill="#0000f0" stroke="#000070" stroke-width="0.6"/>
<circle cx="164.3" cy="118.4" r="2.3" fill="#0000f0" stroke="#000070" stroke-width="0.6"/>
<circle cx="173.5" cy="114.7" r="2.3" fill="#0000f0" stroke="#000070" stroke-width="0.6"/>
<circle cx="178.1" cy="112.8" r="2.3" fill="#0000f0" stroke="#000070" stroke-width="0.6"/>
<circle cx="177.2" cy="117.4" r="2.3" fill="#0000f0" stroke="#000070" stroke-width="0.6"/>
<circle cx="162.0" cy="119.8" r="2.3" fill="#0000f0" stroke="#000070" stroke-width="0.6"/>
<circle cx="171.7" cy="117.9" r="2.3" fill="#0000f0" stroke="#000070" stroke-width="0.6"/>
<circle cx="163.0" cy="127.7" r="2.3" fill="#0000f0" stroke="#000070" stroke-width="0.6"/>
<circle cx="201.0" cy="116.1" r="2.3" fill="#0000f0" stroke="#000070" stroke-width="0.6"/>
<circle cx="196.9" cy="118.9" r="2.3" fill="#0000f0" stroke="#000070" stroke-width="0.6"/>
<circle cx="198.2" cy="121.7" r="2.3" fill="#0000f0" stroke="#000070" stroke-width="0.6"/>
<circle cx="206.1" cy="118.0" r="2.3" fill="#0000f0" stroke="#000070" stroke-width="0.6"/>
<circle cx="204.7" cy="119.8" r="2.3" fill="#0000f0" stroke="#000070" stroke-width="0.6"/>
<circle cx="211.2" cy="118.0" r="2.3" fill="#0000f0" stroke="#000070" stroke-width="0.6"/>
<circle cx="209.8" cy="122.6" r="2.3" fill="#0000f0" stroke="#000070" stroke-width="0.6"/>
<circle cx="212.6" cy="120.7" r="2.3" fill="#0000f0" stroke="#000070" stroke-width="0.6"/>
<circle cx="216.3" cy="120.7" r="2.3" fill="#0000f0" stroke="#000070" stroke-width="0.6"/>
<circle cx="222.8" cy="119.8" r="2.3" fill="#0000f0" stroke="#000070" stroke-width="0.6"/>
<circle cx="224.6" cy="122.6" r="2.3" fill="#0000f0" stroke="#000070" stroke-width="0.6"/>
<circle cx="224.0" cy="133.3" r="2.3" fill="#0000f0" stroke="#000070" stroke-width="0.6"/>
<circle cx="220.0" cy="144.3" r="2.3" fill="#0000f0" stroke="#000070" stroke-width="0.6"/>
<circle cx="61.7" cy="126.2" r="2.3" fill="#f00000" stroke="#700000" stroke-width="0.6"/>
<circle cx="83.1" cy="118.1" r="2.3" fill="#0000f0" stroke="#000070" stroke-width="0.6"/>
<circle cx="95.2" cy="113.0" r="2.3" fill="#0000f0" stroke="#000070" stroke-width="0.6"/>
<circle cx="101.7" cy="112.0" r="2.3" fill="#0000f0" stroke="#000070" stroke-width="0.6"/>
<circle cx="93.3" cy="118.5" r="2.3" fill="#0000f0" stroke="#000070" stroke-width="0.6"/>
<circle cx="98.9" cy="116.7" r="2.3" fill="#0000f0" stroke="#000070" stroke-width="0.6"/>
<circle cx="105.4" cy="113.9" r="2.3" fill="#0000f0" stroke="#000070" stroke-width="0.6"/>
<circle cx="108.1" cy="116.2" r="2.3" fill="#0000f0" stroke="#000070" stroke-width="0.6"/>
<circle cx="94.3" cy="121.3" r="2.3" fill="#f00000" stroke="#700000" stroke-width="0.6"/>
<circle cx="98.9" cy="122.2" r="2.3" fill="#f00000" stroke="#700000" stroke-width="0.6"/>
<circle cx="104.4" cy="120.4" r="2.3" fill="#f00000" stroke="#700000" stroke-width="0.6"/>
<circle cx="105.4" cy="124.1" r="2.3" fill="#f00000" stroke="#700000" stroke-width="0.6"/>
<circle cx="109.1" cy="125.9" r="2.3" fill="#f00000" stroke="#700000" stroke-width="0.6"/>
<circle cx="108.1" cy="121.3" r="2.3" fill="#f00000" stroke="#700000" stroke-width="0.6"/>
<circle cx="95.9" cy="112.9" r="2.3" fill="#0000f0" stroke="#000070" stroke-width="0.6"/>
<circle cx="101.4" cy="112.0" r="2.3" fill="#0000f0" stroke="#000070" stroke-width="0.6"/>
<circle cx="105.9" cy="113.8" r="2.3" fill="#0000f0" stroke="#000070" stroke-width="0.6"/>
<circle cx="111.4" cy="115.6" r="2.3" fill="#0000f0" stroke="#000070" stroke-width="0.6"/>
<circle cx="117.7" cy="112.0" r="2.3" fill="#0000f0" stroke="#000070" stroke-width="0.6"/>
<circle cx="124.1" cy="112.9" r="2.3" fill="#0000f0" stroke="#000070" stroke-width="0.6"/>
<circle cx="129.5" cy="113.8" r="2.3" fill="#0000f0" stroke="#000070" stroke-width="0.6"/>
<circle cx="98.6" cy="117.5" r="2.3" fill="#0000f0" stroke="#000070" stroke-width="0.6"/>
<circle cx="108.6" cy="117.5" r="2.3" fill="#0000f0" stroke="#000070" stroke-width="0.6"/>
<circle cx="115.0" cy="116.5" r="2.3" fill="#0000f0" stroke="#000070" stroke-width="0.6"/>
<circle cx="120.5" cy="117.5" r="2.3" fill="#0000f0" stroke="#000070" stroke-width="0.6"/>
<circle cx="125.9" cy="116.5" r="2.3" fill="#0000f0" stroke="#000070" stroke-width="0.6"/>
<circle cx="113.0" cy="113.0" r="2.3" fill="#0000f0" stroke="#000070" stroke-width="0.6"/>
<circle cx="121.0" cy="114.5" r="2.3" fill="#0000f0" stroke="#000070" stroke-width="0.6"/>
<circle cx="127.0" cy="115.5" r="2.3" fill="#0000f0" stroke="#000070" stroke-width="0.6"/>
<circle cx="103.0" cy="115.5" r="2.3" fill="#0000f0" stroke="#000070" stroke-width="0.6"/>
<circle cx="95.9" cy="121.1" r="2.3" fill="#f00000" stroke="#700000" stroke-width="0.6"/>
<circle cx="100.5" cy="122.0" r="2.3" fill="#f00000" stroke="#700000" stroke-width="0.6"/>
<circle cx="105.0" cy="119.3" r="2.3" fill="#f00000" stroke="#700000" stroke-width="0.6"/>
<circle cx="106.8" cy="123.8" r="2.3" fill="#f00000" stroke="#700000" stroke-width="0.6"/>
<circle cx="111.4" cy="122.0" r="2.3" fill="#f00000" stroke="#700000" stroke-width="0.6"/>
<circle cx="110.5" cy="126.5" r="2.3" fill="#f00000" stroke="#700000" stroke-width="0.6"/>
<circle cx="115.0" cy="124.7" r="2.3" fill="#f00000" stroke="#700000" stroke-width="0.6"/>
<circle cx="122.3" cy="122.9" r="2.3" fill="#f00000" stroke="#700000" stroke-width="0.6"/>
<circle cx="125.9" cy="121.1" r="2.3" fill="#f00000" stroke="#700000" stroke-width="0.6"/>
<circle cx="127.7" cy="124.7" r="2.3" fill="#f00000" stroke="#700000" stroke-width="0.6"/>
<circle cx="131.4" cy="120.2" r="2.3" fill="#f00000" stroke="#700000" stroke-width="0.6"/>
<circle cx="133.2" cy="122.9" r="2.3" fill="#f00000" stroke="#700000" stroke-width="0.6"/>
<circle cx="136.8" cy="119.3" r="2.3" fill="#f00000" stroke="#700000" stroke-width="0.6"/>
<circle cx="142.3" cy="118.4" r="2.3" fill="#f00000" stroke="#700000" stroke-width="0.6"/>
<circle cx="121.4" cy="126.5" r="2.3" fill="#f00000" stroke="#700000" stroke-width="0.6"/>
<circle cx="129.5" cy="126.5" r="2.3" fill="#f00000" stroke="#700000" stroke-width="0.6"/>
<circle cx="118.0" cy="121.0" r="2.3" fill="#f00000" stroke="#700000" stroke-width="0.6"/>
<circle cx="113.0" cy="127.0" r="2.3" fill="#f00000" stroke="#700000" stroke-width="0.6"/>
<circle cx="103.5" cy="125.5" r="2.3" fill="#f00000" stroke="#700000" stroke-width="0.6"/>
<circle cx="117.7" cy="121.1" r="2.3" fill="#0000f0" stroke="#000070" stroke-width="0.6"/>
<circle cx="131.4" cy="131.5" r="2.3" fill="#0000f0" stroke="#000070" stroke-width="0.6"/>
<circle cx="104.6" cy="118.6" r="2.3" fill="#0000f0" stroke="#000070" stroke-width="0.6"/>
<circle cx="117.7" cy="120.8" r="2.3" fill="#0000f0" stroke="#000070" stroke-width="0.6"/>
<circle cx="123.2" cy="118.6" r="2.3" fill="#0000f0" stroke="#000070" stroke-width="0.6"/>
<circle cx="130.8" cy="117.0" r="2.3" fill="#0000f0" stroke="#000070" stroke-width="0.6"/>
<circle cx="93.7" cy="118.6" r="2.3" fill="#0000f0" stroke="#000070" stroke-width="0.6"/>
<circle cx="110.0" cy="118.0" r="2.3" fill="#0000f0" stroke="#000070" stroke-width="0.6"/>
<circle cx="127.0" cy="116.5" r="2.3" fill="#0000f0" stroke="#000070" stroke-width="0.6"/>
<path d="M128.30,21.70L137.70,21.70L133.00,29.10Z" fill="#fff" stroke="#111" stroke-width="1.25" stroke-linejoin="miter"/>
<path d="M118.30,40.60L127.70,40.60L123.00,48.00Z" fill="#fff" stroke="#111" stroke-width="1.25" stroke-linejoin="miter"/>
<path d="M166.30,42.90L175.70,42.90L171.00,50.30Z" fill="#fff" stroke="#111" stroke-width="1.25" stroke-linejoin="miter"/>
<path d="M207.10,44.90L216.50,44.90L211.80,52.30Z" fill="#fff" stroke="#111" stroke-width="1.25" stroke-linejoin="miter"/>
<path d="M140.50,79.00L149.90,79.00L145.20,86.40Z" fill="#fff" stroke="#111" stroke-width="1.25" stroke-linejoin="miter"/>
<path d="M139.70,109.30L149.10,109.30L144.40,116.70Z" fill="#fff" stroke="#111" stroke-width="1.25" stroke-linejoin="miter"/>
<path d="M137.60,137.30L147.00,137.30L142.30,144.70Z" fill="#fff" stroke="#111" stroke-width="1.25" stroke-linejoin="miter"/>
<path d="M118.60,160.10L128.00,160.10L123.30,167.50Z" fill="#fff" stroke="#111" stroke-width="1.25" stroke-linejoin="miter"/>
<path d="M119.65,159.99L129.05,159.99L124.35,167.39Z" fill="#fff" stroke="#111" stroke-width="1.25" stroke-linejoin="miter"/>
<path d="M120.71,159.88L130.11,159.88L125.41,167.28Z" fill="#fff" stroke="#111" stroke-width="1.25" stroke-linejoin="miter"/>
<path d="M121.76,159.77L131.16,159.77L126.46,167.17Z" fill="#fff" stroke="#111" stroke-width="1.25" stroke-linejoin="miter"/>
<path d="M122.82,159.66L132.22,159.66L127.52,167.06Z" fill="#fff" stroke="#111" stroke-width="1.25" stroke-linejoin="miter"/>
<path d="M123.87,159.55L133.27,159.55L128.57,166.95Z" fill="#fff" stroke="#111" stroke-width="1.25" stroke-linejoin="miter"/>
<path d="M124.93,159.45L134.33,159.45L129.63,166.85Z" fill="#fff" stroke="#111" stroke-width="1.25" stroke-linejoin="miter"/>
<path d="M125.98,159.34L135.38,159.34L130.68,166.74Z" fill="#fff" stroke="#111" stroke-width="1.25" stroke-linejoin="miter"/>
<path d="M127.04,159.23L136.44,159.23L131.74,166.63Z" fill="#fff" stroke="#111" stroke-width="1.25" stroke-linejoin="miter"/>
<path d="M128.09,159.12L137.49,159.12L132.79,166.52Z" fill="#fff" stroke="#111" stroke-width="1.25" stroke-linejoin="miter"/>
<path d="M129.15,159.01L138.55,159.01L133.85,166.41Z" fill="#fff" stroke="#111" stroke-width="1.25" stroke-linejoin="miter"/>
<path d="M130.20,158.90L139.60,158.90L134.90,166.30Z" fill="#fff" stroke="#111" stroke-width="1.25" stroke-linejoin="miter"/>
<path d="M137.70,167.20L147.10,167.20L142.40,174.60Z" fill="#fff" stroke="#111" stroke-width="1.25" stroke-linejoin="miter"/>
<circle cx="337.6" cy="93.2" r="2.3" fill="#0000f0" stroke="#000070" stroke-width="0.6"/>
<circle cx="342.2" cy="93.0" r="2.3" fill="#0000f0" stroke="#000070" stroke-width="0.6"/>
<circle cx="345.7" cy="93.4" r="2.3" fill="#0000f0" stroke="#000070" stroke-width="0.6"/>
<circle cx="350.4" cy="93.0" r="2.3" fill="#0000f0" stroke="#000070" stroke-width="0.6"/>
<circle cx="354.0" cy="92.7" r="2.3" fill="#0000f0" stroke="#000070" stroke-width="0.6"/>
<circle cx="357.4" cy="92.8" r="2.3" fill="#0000f0" stroke="#000070" stroke-width="0.6"/>
<circle cx="362.1" cy="92.5" r="2.3" fill="#0000f0" stroke="#000070" stroke-width="0.6"/>
<circle cx="366.4" cy="92.7" r="2.3" fill="#0000f0" stroke="#000070" stroke-width="0.6"/>
<circle cx="369.7" cy="92.5" r="2.3" fill="#0000f0" stroke="#000070" stroke-width="0.6"/>
<circle cx="374.6" cy="93.3" r="2.3" fill="#0000f0" stroke="#000070" stroke-width="0.6"/>
<circle cx="340.5" cy="96.5" r="2.3" fill="#0000f0" stroke="#000070" stroke-width="0.6"/>
<circle cx="343.4" cy="96.2" r="2.3" fill="#0000f0" stroke="#000070" stroke-width="0.6"/>
<circle cx="348.0" cy="95.9" r="2.3" fill="#0000f0" stroke="#000070" stroke-width="0.6"/>
<circle cx="352.5" cy="96.2" r="2.3" fill="#0000f0" stroke="#000070" stroke-width="0.6"/>
<circle cx="355.6" cy="96.8" r="2.3" fill="#0000f0" stroke="#000070" stroke-width="0.6"/>
<circle cx="359.5" cy="96.9" r="2.3" fill="#0000f0" stroke="#000070" stroke-width="0.6"/>
<circle cx="363.9" cy="96.5" r="2.3" fill="#0000f0" stroke="#000070" stroke-width="0.6"/>
<circle cx="367.8" cy="96.4" r="2.3" fill="#0000f0" stroke="#000070" stroke-width="0.6"/>
<circle cx="371.6" cy="95.8" r="2.3" fill="#0000f0" stroke="#000070" stroke-width="0.6"/>
<circle cx="340.5" cy="100.6" r="2.3" fill="#f00000" stroke="#700000" stroke-width="0.6"/>
<circle cx="343.5" cy="101.5" r="2.3" fill="#f00000" stroke="#700000" stroke-width="0.6"/>
<circle cx="347.7" cy="100.6" r="2.3" fill="#f00000" stroke="#700000" stroke-width="0.6"/>
<circle cx="352.2" cy="100.8" r="2.3" fill="#f00000" stroke="#700000" stroke-width="0.6"/>
<circle cx="356.4" cy="100.7" r="2.3" fill="#f00000" stroke="#700000" stroke-width="0.6"/>
<circle cx="360.5" cy="100.8" r="2.3" fill="#f00000" stroke="#700000" stroke-width="0.6"/>
<circle cx="364.1" cy="101.4" r="2.3" fill="#f00000" stroke="#700000" stroke-width="0.6"/>
<circle cx="368.2" cy="101.4" r="2.3" fill="#f00000" stroke="#700000" stroke-width="0.6"/>
<circle cx="372.2" cy="100.5" r="2.3" fill="#f00000" stroke="#700000" stroke-width="0.6"/>
<circle cx="336.5" cy="114.5" r="2.3" fill="#0000f0" stroke="#000070" stroke-width="0.6"/>
<circle cx="340.5" cy="113.5" r="2.3" fill="#0000f0" stroke="#000070" stroke-width="0.6"/>
<circle cx="344.1" cy="113.9" r="2.3" fill="#0000f0" stroke="#000070" stroke-width="0.6"/>
<circle cx="348.0" cy="113.6" r="2.3" fill="#0000f0" stroke="#000070" stroke-width="0.6"/>
<circle cx="351.6" cy="113.9" r="2.3" fill="#0000f0" stroke="#000070" stroke-width="0.6"/>
<circle cx="355.7" cy="113.9" r="2.3" fill="#0000f0" stroke="#000070" stroke-width="0.6"/>
<circle cx="359.4" cy="113.5" r="2.3" fill="#0000f0" stroke="#000070" stroke-width="0.6"/>
<circle cx="364.3" cy="113.9" r="2.3" fill="#0000f0" stroke="#000070" stroke-width="0.6"/>
<circle cx="368.0" cy="114.3" r="2.3" fill="#0000f0" stroke="#000070" stroke-width="0.6"/>
<circle cx="371.8" cy="113.5" r="2.3" fill="#0000f0" stroke="#000070" stroke-width="0.6"/>
<circle cx="376.3" cy="114.1" r="2.3" fill="#0000f0" stroke="#000070" stroke-width="0.6"/>
<circle cx="338.2" cy="117.5" r="2.3" fill="#0000f0" stroke="#000070" stroke-width="0.6"/>
<circle cx="342.6" cy="117.2" r="2.3" fill="#0000f0" stroke="#000070" stroke-width="0.6"/>
<circle cx="346.3" cy="117.2" r="2.3" fill="#0000f0" stroke="#000070" stroke-width="0.6"/>
<circle cx="350.1" cy="117.6" r="2.3" fill="#0000f0" stroke="#000070" stroke-width="0.6"/>
<circle cx="353.8" cy="116.9" r="2.3" fill="#0000f0" stroke="#000070" stroke-width="0.6"/>
<circle cx="358.0" cy="117.7" r="2.3" fill="#0000f0" stroke="#000070" stroke-width="0.6"/>
<circle cx="362.1" cy="117.3" r="2.3" fill="#0000f0" stroke="#000070" stroke-width="0.6"/>
<circle cx="366.2" cy="117.0" r="2.3" fill="#0000f0" stroke="#000070" stroke-width="0.6"/>
<circle cx="369.6" cy="117.2" r="2.3" fill="#0000f0" stroke="#000070" stroke-width="0.6"/>
<circle cx="374.4" cy="117.0" r="2.3" fill="#0000f0" stroke="#000070" stroke-width="0.6"/>
<circle cx="342.2" cy="121.3" r="2.3" fill="#f00000" stroke="#700000" stroke-width="0.6"/>
<circle cx="345.7" cy="121.5" r="2.3" fill="#f00000" stroke="#700000" stroke-width="0.6"/>
<circle cx="349.7" cy="121.2" r="2.3" fill="#f00000" stroke="#700000" stroke-width="0.6"/>
<circle cx="353.6" cy="121.3" r="2.3" fill="#f00000" stroke="#700000" stroke-width="0.6"/>
<circle cx="357.7" cy="121.2" r="2.3" fill="#f00000" stroke="#700000" stroke-width="0.6"/>
<circle cx="362.2" cy="121.3" r="2.3" fill="#f00000" stroke="#700000" stroke-width="0.6"/>
<circle cx="365.9" cy="121.4" r="2.3" fill="#f00000" stroke="#700000" stroke-width="0.6"/>
<circle cx="370.5" cy="120.6" r="2.3" fill="#f00000" stroke="#700000" stroke-width="0.6"/>
<circle cx="374.0" cy="121.5" r="2.3" fill="#f00000" stroke="#700000" stroke-width="0.6"/>
<circle cx="378.2" cy="120.9" r="2.3" fill="#f00000" stroke="#700000" stroke-width="0.6"/>
<circle cx="381.8" cy="121.5" r="2.3" fill="#f00000" stroke="#700000" stroke-width="0.6"/>
<circle cx="301.1" cy="85.0" r="2.3" fill="#0000f0" stroke="#000070" stroke-width="0.6"/>
<circle cx="302.9" cy="90.9" r="2.3" fill="#f00000" stroke="#700000" stroke-width="0.6"/>
<circle cx="307.5" cy="85.5" r="2.3" fill="#f00000" stroke="#700000" stroke-width="0.6"/>
<circle cx="310.6" cy="89.1" r="2.3" fill="#0000f0" stroke="#000070" stroke-width="0.6"/>
<circle cx="312.5" cy="92.3" r="2.3" fill="#0000f0" stroke="#000070" stroke-width="0.6"/>
<circle cx="312.9" cy="96.4" r="2.3" fill="#0000f0" stroke="#000070" stroke-width="0.6"/>
<circle cx="316.1" cy="85.9" r="2.3" fill="#0000f0" stroke="#000070" stroke-width="0.6"/>
<circle cx="316.5" cy="88.6" r="2.3" fill="#0000f0" stroke="#000070" stroke-width="0.6"/>
<circle cx="320.2" cy="86.8" r="2.3" fill="#f00000" stroke="#700000" stroke-width="0.6"/>
<circle cx="323.8" cy="81.8" r="2.3" fill="#0000f0" stroke="#000070" stroke-width="0.6"/>
<circle cx="324.7" cy="85.0" r="2.3" fill="#f00000" stroke="#700000" stroke-width="0.6"/>
<circle cx="329.7" cy="81.4" r="2.3" fill="#0000f0" stroke="#000070" stroke-width="0.6"/>
<circle cx="330.6" cy="84.1" r="2.3" fill="#f00000" stroke="#700000" stroke-width="0.6"/>
<circle cx="335.2" cy="76.8" r="2.3" fill="#0000f0" stroke="#000070" stroke-width="0.6"/>
<circle cx="341.1" cy="77.7" r="2.3" fill="#0000f0" stroke="#000070" stroke-width="0.6"/>
<circle cx="344.3" cy="81.4" r="2.3" fill="#0000f0" stroke="#000070" stroke-width="0.6"/>
<circle cx="336.1" cy="80.9" r="2.3" fill="#0000f0" stroke="#000070" stroke-width="0.6"/>
<circle cx="333.4" cy="83.2" r="2.3" fill="#f00000" stroke="#700000" stroke-width="0.6"/>
<circle cx="340.6" cy="85.0" r="2.3" fill="#f00000" stroke="#700000" stroke-width="0.6"/>
<circle cx="344.3" cy="85.9" r="2.3" fill="#f00000" stroke="#700000" stroke-width="0.6"/>
<circle cx="337.0" cy="84.5" r="2.3" fill="#f00000" stroke="#700000" stroke-width="0.6"/>
<circle cx="334.3" cy="85.9" r="2.3" fill="#0000f0" stroke="#000070" stroke-width="0.6"/>
<circle cx="331.5" cy="88.6" r="2.3" fill="#0000f0" stroke="#000070" stroke-width="0.6"/>
<circle cx="336.1" cy="89.5" r="2.3" fill="#0000f0" stroke="#000070" stroke-width="0.6"/>
<circle cx="326.1" cy="90.5" r="2.3" fill="#0000f0" stroke="#000070" stroke-width="0.6"/>
<circle cx="329.7" cy="92.3" r="2.3" fill="#0000f0" stroke="#000070" stroke-width="0.6"/>
<circle cx="342.5" cy="89.1" r="2.3" fill="#0000f0" stroke="#000070" stroke-width="0.6"/>
<circle cx="339.7" cy="95.0" r="2.3" fill="#0000f0" stroke="#000070" stroke-width="0.6"/>
<circle cx="344.3" cy="95.0" r="2.3" fill="#0000f0" stroke="#000070" stroke-width="0.6"/>
<circle cx="325.2" cy="96.8" r="2.3" fill="#0000f0" stroke="#000070" stroke-width="0.6"/>
<circle cx="327.9" cy="97.7" r="2.3" fill="#0000f0" stroke="#000070" stroke-width="0.6"/>
<circle cx="322.5" cy="99.5" r="2.3" fill="#0000f0" stroke="#000070" stroke-width="0.6"/>
<circle cx="340.9" cy="77.7" r="2.3" fill="#0000f0" stroke="#000070" stroke-width="0.6"/>
<circle cx="344.5" cy="81.8" r="2.3" fill="#0000f0" stroke="#000070" stroke-width="0.6"/>
<circle cx="340.9" cy="82.3" r="2.3" fill="#0000f0" stroke="#000070" stroke-width="0.6"/>
<circle cx="346.0" cy="85.5" r="2.3" fill="#f00000" stroke="#700000" stroke-width="0.6"/>
<circle cx="349.0" cy="86.5" r="2.3" fill="#f00000" stroke="#700000" stroke-width="0.6"/>
<circle cx="356.4" cy="80.5" r="2.3" fill="#0000f0" stroke="#000070" stroke-width="0.6"/>
<circle cx="343.2" cy="88.6" r="2.3" fill="#0000f0" stroke="#000070" stroke-width="0.6"/>
<circle cx="349.1" cy="87.7" r="2.3" fill="#0000f0" stroke="#000070" stroke-width="0.6"/>
<circle cx="352.7" cy="90.5" r="2.3" fill="#0000f0" stroke="#000070" stroke-width="0.6"/>
<circle cx="338.5" cy="92.5" r="2.3" fill="#0000f0" stroke="#000070" stroke-width="0.6"/>
<circle cx="333.0" cy="93.0" r="2.3" fill="#0000f0" stroke="#000070" stroke-width="0.6"/>
<circle cx="341.8" cy="94.1" r="2.3" fill="#0000f0" stroke="#000070" stroke-width="0.6"/>
<circle cx="346.4" cy="93.2" r="2.3" fill="#0000f0" stroke="#000070" stroke-width="0.6"/>
<circle cx="356.4" cy="92.3" r="2.3" fill="#0000f0" stroke="#000070" stroke-width="0.6"/>
<circle cx="361.8" cy="92.3" r="2.3" fill="#0000f0" stroke="#000070" stroke-width="0.6"/>
<circle cx="369.1" cy="92.3" r="2.3" fill="#0000f0" stroke="#000070" stroke-width="0.6"/>
<circle cx="373.6" cy="95.0" r="2.3" fill="#0000f0" stroke="#000070" stroke-width="0.6"/>
<circle cx="351.8" cy="95.9" r="2.3" fill="#0000f0" stroke="#000070" stroke-width="0.6"/>
<circle cx="358.2" cy="95.9" r="2.3" fill="#0000f0" stroke="#000070" stroke-width="0.6"/>
<circle cx="364.5" cy="95.9" r="2.3" fill="#0000f0" stroke="#000070" stroke-width="0.6"/>
<circle cx="342.0" cy="96.0" r="2.3" fill="#0000f0" stroke="#000070" stroke-width="0.6"/>
<circle cx="348.0" cy="97.0" r="2.3" fill="#0000f0" stroke="#000070" stroke-width="0.6"/>
<circle cx="355.0" cy="96.5" r="2.3" fill="#0000f0" stroke="#000070" stroke-width="0.6"/>
<circle cx="362.0" cy="97.0" r="2.3" fill="#0000f0" stroke="#000070" stroke-width="0.6"/>
<circle cx="370.0" cy="96.0" r="2.3" fill="#0000f0" stroke="#000070" stroke-width="0.6"/>
<circle cx="343.0" cy="100.0" r="2.3" fill="#f00000" stroke="#700000" stroke-width="0.6"/>
<circle cx="347.0" cy="102.0" r="2.3" fill="#f00000" stroke="#700000" stroke-width="0.6"/>
<circle cx="354.0" cy="101.5" r="2.3" fill="#f00000" stroke="#700000" stroke-width="0.6"/>
<circle cx="360.0" cy="102.5" r="2.3" fill="#f00000" stroke="#700000" stroke-width="0.6"/>
<circle cx="365.0" cy="101.0" r="2.3" fill="#f00000" stroke="#700000" stroke-width="0.6"/>
<circle cx="371.0" cy="102.0" r="2.3" fill="#f00000" stroke="#700000" stroke-width="0.6"/>
<circle cx="375.0" cy="98.0" r="2.3" fill="#f00000" stroke="#700000" stroke-width="0.6"/>
<circle cx="378.0" cy="96.0" r="2.3" fill="#f00000" stroke="#700000" stroke-width="0.6"/>
<circle cx="350.0" cy="100.5" r="2.3" fill="#0000f0" stroke="#000070" stroke-width="0.6"/>
<circle cx="373.0" cy="104.0" r="2.3" fill="#f00000" stroke="#700000" stroke-width="0.6"/>
<circle cx="374.0" cy="106.5" r="2.3" fill="#f00000" stroke="#700000" stroke-width="0.6"/>
<circle cx="377.3" cy="95.9" r="2.3" fill="#f00000" stroke="#700000" stroke-width="0.6"/>
<circle cx="341.5" cy="99.5" r="2.3" fill="#f00000" stroke="#700000" stroke-width="0.6"/>
<circle cx="385.9" cy="98.2" r="2.3" fill="#f00000" stroke="#700000" stroke-width="0.6"/>
<circle cx="380.9" cy="97.3" r="2.3" fill="#0000f0" stroke="#000070" stroke-width="0.6"/>
<circle cx="386.0" cy="99.0" r="2.3" fill="#f00000" stroke="#700000" stroke-width="0.6"/>
<circle cx="381.0" cy="97.5" r="2.3" fill="#0000f0" stroke="#000070" stroke-width="0.6"/>
<circle cx="395.5" cy="104.5" r="2.3" fill="#0000f0" stroke="#000070" stroke-width="0.6"/>
<circle cx="299.3" cy="104.1" r="2.3" fill="#0000f0" stroke="#000070" stroke-width="0.6"/>
<circle cx="299.3" cy="120.9" r="2.3" fill="#0000f0" stroke="#000070" stroke-width="0.6"/>
<circle cx="299.3" cy="129.1" r="2.3" fill="#0000f0" stroke="#000070" stroke-width="0.6"/>
<circle cx="312.5" cy="96.8" r="2.3" fill="#0000f0" stroke="#000070" stroke-width="0.6"/>
<circle cx="312.9" cy="101.8" r="2.3" fill="#0000f0" stroke="#000070" stroke-width="0.6"/>
<circle cx="312.5" cy="107.3" r="2.3" fill="#0000f0" stroke="#000070" stroke-width="0.6"/>
<circle cx="316.1" cy="110.0" r="2.3" fill="#0000f0" stroke="#000070" stroke-width="0.6"/>
<circle cx="312.5" cy="114.5" r="2.3" fill="#0000f0" stroke="#000070" stroke-width="0.6"/>
<circle cx="312.5" cy="123.2" r="2.3" fill="#0000f0" stroke="#000070" stroke-width="0.6"/>
<circle cx="314.3" cy="126.8" r="2.3" fill="#0000f0" stroke="#000070" stroke-width="0.6"/>
<circle cx="322.0" cy="101.4" r="2.3" fill="#0000f0" stroke="#000070" stroke-width="0.6"/>
<circle cx="326.1" cy="97.7" r="2.3" fill="#0000f0" stroke="#000070" stroke-width="0.6"/>
<circle cx="327.9" cy="97.7" r="2.3" fill="#0000f0" stroke="#000070" stroke-width="0.6"/>
<circle cx="333.4" cy="103.6" r="2.3" fill="#0000f0" stroke="#000070" stroke-width="0.6"/>
<circle cx="323.8" cy="112.7" r="2.3" fill="#0000f0" stroke="#000070" stroke-width="0.6"/>
<circle cx="333.4" cy="111.8" r="2.3" fill="#0000f0" stroke="#000070" stroke-width="0.6"/>
<circle cx="317.9" cy="119.5" r="2.3" fill="#0000f0" stroke="#000070" stroke-width="0.6"/>
<circle cx="322.5" cy="117.7" r="2.3" fill="#0000f0" stroke="#000070" stroke-width="0.6"/>
<circle cx="325.2" cy="121.4" r="2.3" fill="#0000f0" stroke="#000070" stroke-width="0.6"/>
<circle cx="328.8" cy="119.5" r="2.3" fill="#0000f0" stroke="#000070" stroke-width="0.6"/>
<circle cx="333.4" cy="119.1" r="2.3" fill="#0000f0" stroke="#000070" stroke-width="0.6"/>
<circle cx="338.8" cy="113.2" r="2.3" fill="#0000f0" stroke="#000070" stroke-width="0.6"/>
<circle cx="338.8" cy="117.7" r="2.3" fill="#0000f0" stroke="#000070" stroke-width="0.6"/>
<circle cx="342.5" cy="115.9" r="2.3" fill="#0000f0" stroke="#000070" stroke-width="0.6"/>
<circle cx="346.1" cy="115.9" r="2.3" fill="#0000f0" stroke="#000070" stroke-width="0.6"/>
<circle cx="337.9" cy="122.3" r="2.3" fill="#0000f0" stroke="#000070" stroke-width="0.6"/>
<circle cx="342.5" cy="121.4" r="2.3" fill="#0000f0" stroke="#000070" stroke-width="0.6"/>
<circle cx="327.9" cy="127.3" r="2.3" fill="#0000f0" stroke="#000070" stroke-width="0.6"/>
<circle cx="339.7" cy="95.9" r="2.3" fill="#0000f0" stroke="#000070" stroke-width="0.6"/>
<circle cx="344.3" cy="96.8" r="2.3" fill="#0000f0" stroke="#000070" stroke-width="0.6"/>
<circle cx="341.5" cy="100.5" r="2.3" fill="#f00000" stroke="#700000" stroke-width="0.6"/>
<circle cx="345.2" cy="102.3" r="2.3" fill="#f00000" stroke="#700000" stroke-width="0.6"/>
<circle cx="344.3" cy="124.1" r="2.3" fill="#f00000" stroke="#700000" stroke-width="0.6"/>
<circle cx="342.0" cy="113.0" r="2.3" fill="#0000f0" stroke="#000070" stroke-width="0.6"/>
<circle cx="346.0" cy="115.0" r="2.3" fill="#0000f0" stroke="#000070" stroke-width="0.6"/>
<circle cx="352.0" cy="114.0" r="2.3" fill="#0000f0" stroke="#000070" stroke-width="0.6"/>
<circle cx="358.0" cy="113.0" r="2.3" fill="#0000f0" stroke="#000070" stroke-width="0.6"/>
<circle cx="364.0" cy="112.0" r="2.3" fill="#0000f0" stroke="#000070" stroke-width="0.6"/>
<circle cx="370.0" cy="111.0" r="2.3" fill="#0000f0" stroke="#000070" stroke-width="0.6"/>
<circle cx="376.0" cy="111.5" r="2.3" fill="#0000f0" stroke="#000070" stroke-width="0.6"/>
<circle cx="344.0" cy="119.0" r="2.3" fill="#0000f0" stroke="#000070" stroke-width="0.6"/>
<circle cx="350.0" cy="118.0" r="2.3" fill="#0000f0" stroke="#000070" stroke-width="0.6"/>
<circle cx="356.0" cy="117.0" r="2.3" fill="#0000f0" stroke="#000070" stroke-width="0.6"/>
<circle cx="362.0" cy="116.5" r="2.3" fill="#0000f0" stroke="#000070" stroke-width="0.6"/>
<circle cx="368.0" cy="115.5" r="2.3" fill="#0000f0" stroke="#000070" stroke-width="0.6"/>
<circle cx="374.0" cy="114.5" r="2.3" fill="#0000f0" stroke="#000070" stroke-width="0.6"/>
<circle cx="341.0" cy="122.0" r="2.3" fill="#0000f0" stroke="#000070" stroke-width="0.6"/>
<circle cx="352.0" cy="121.0" r="2.3" fill="#0000f0" stroke="#000070" stroke-width="0.6"/>
<circle cx="383.0" cy="113.0" r="2.3" fill="#0000f0" stroke="#000070" stroke-width="0.6"/>
<circle cx="346.0" cy="123.0" r="2.3" fill="#f00000" stroke="#700000" stroke-width="0.6"/>
<circle cx="351.0" cy="124.0" r="2.3" fill="#f00000" stroke="#700000" stroke-width="0.6"/>
<circle cx="356.0" cy="121.0" r="2.3" fill="#f00000" stroke="#700000" stroke-width="0.6"/>
<circle cx="359.0" cy="124.0" r="2.3" fill="#f00000" stroke="#700000" stroke-width="0.6"/>
<circle cx="357.0" cy="127.0" r="2.3" fill="#f00000" stroke="#700000" stroke-width="0.6"/>
<circle cx="365.0" cy="122.0" r="2.3" fill="#f00000" stroke="#700000" stroke-width="0.6"/>
<circle cx="371.0" cy="123.0" r="2.3" fill="#f00000" stroke="#700000" stroke-width="0.6"/>
<circle cx="373.0" cy="119.0" r="2.3" fill="#f00000" stroke="#700000" stroke-width="0.6"/>
<circle cx="378.0" cy="118.0" r="2.3" fill="#f00000" stroke="#700000" stroke-width="0.6"/>
<circle cx="380.0" cy="121.0" r="2.3" fill="#f00000" stroke="#700000" stroke-width="0.6"/>
<circle cx="384.0" cy="118.5" r="2.3" fill="#f00000" stroke="#700000" stroke-width="0.6"/>
<circle cx="349.0" cy="125.0" r="2.3" fill="#f00000" stroke="#700000" stroke-width="0.6"/>
<circle cx="362.0" cy="126.0" r="2.3" fill="#f00000" stroke="#700000" stroke-width="0.6"/>
<circle cx="368.0" cy="125.0" r="2.3" fill="#f00000" stroke="#700000" stroke-width="0.6"/>
<circle cx="376.0" cy="123.0" r="2.3" fill="#f00000" stroke="#700000" stroke-width="0.6"/>
<circle cx="390.0" cy="126.0" r="2.3" fill="#f00000" stroke="#700000" stroke-width="0.6"/>
<circle cx="299.2" cy="129.5" r="2.3" fill="#0000f0" stroke="#000070" stroke-width="0.6"/>
<circle cx="314.3" cy="126.8" r="2.3" fill="#0000f0" stroke="#000070" stroke-width="0.6"/>
<circle cx="324.3" cy="130.5" r="2.3" fill="#0000f0" stroke="#000070" stroke-width="0.6"/>
<circle cx="327.9" cy="128.6" r="2.3" fill="#0000f0" stroke="#000070" stroke-width="0.6"/>
<circle cx="337.0" cy="131.4" r="2.3" fill="#0000f0" stroke="#000070" stroke-width="0.6"/>
<circle cx="329.4" cy="144.5" r="2.3" fill="#0000f0" stroke="#000070" stroke-width="0.6"/>
<circle cx="322.1" cy="116.2" r="2.3" fill="#0000f0" stroke="#000070" stroke-width="0.6"/>
<circle cx="326.2" cy="120.4" r="2.3" fill="#0000f0" stroke="#000070" stroke-width="0.6"/>
<circle cx="331.5" cy="118.3" r="2.3" fill="#0000f0" stroke="#000070" stroke-width="0.6"/>
<circle cx="333.5" cy="112.1" r="2.3" fill="#0000f0" stroke="#000070" stroke-width="0.6"/>
<circle cx="328.3" cy="113.1" r="2.3" fill="#0000f0" stroke="#000070" stroke-width="0.6"/>
<path d="M324.80,42.60L334.20,42.60L329.50,50.00Z" fill="#fff" stroke="#111" stroke-width="1.25" stroke-linejoin="miter"/>
<path d="M328.40,40.60L337.80,40.60L333.10,48.00Z" fill="#fff" stroke="#111" stroke-width="1.25" stroke-linejoin="miter"/>
<path d="M330.90,45.30L340.30,45.30L335.60,52.70Z" fill="#fff" stroke="#111" stroke-width="1.25" stroke-linejoin="miter"/>
<path d="M342.60,44.60L352.00,44.60L347.30,52.00Z" fill="#fff" stroke="#111" stroke-width="1.25" stroke-linejoin="miter"/>
<path d="M365.80,43.60L375.20,43.60L370.50,51.00Z" fill="#fff" stroke="#111" stroke-width="1.25" stroke-linejoin="miter"/>
<path d="M377.20,42.30L386.60,42.30L381.90,49.70Z" fill="#fff" stroke="#111" stroke-width="1.25" stroke-linejoin="miter"/>
<path d="M376.40,86.80L385.80,86.80L381.10,94.20Z" fill="#fff" stroke="#111" stroke-width="1.25" stroke-linejoin="miter"/>
<path d="M379.00,130.80L388.40,130.80L383.70,138.20Z" fill="#fff" stroke="#111" stroke-width="1.25" stroke-linejoin="miter"/>
<path d="M312.60,159.80L322.00,159.80L317.30,167.20Z" fill="#fff" stroke="#111" stroke-width="1.25" stroke-linejoin="miter"/>
<path d="M322.40,159.80L331.80,159.80L327.10,167.20Z" fill="#fff" stroke="#111" stroke-width="1.25" stroke-linejoin="miter"/>
<path d="M331.40,159.80L340.80,159.80L336.10,167.20Z" fill="#fff" stroke="#111" stroke-width="1.25" stroke-linejoin="miter"/>
<path d="M340.40,159.80L349.80,159.80L345.10,167.20Z" fill="#fff" stroke="#111" stroke-width="1.25" stroke-linejoin="miter"/>
<path d="M350.20,159.80L359.60,159.80L354.90,167.20Z" fill="#fff" stroke="#111" stroke-width="1.25" stroke-linejoin="miter"/>
<path d="M359.20,159.80L368.60,159.80L363.90,167.20Z" fill="#fff" stroke="#111" stroke-width="1.25" stroke-linejoin="miter"/>
<path d="M368.20,159.80L377.60,159.80L372.90,167.20Z" fill="#fff" stroke="#111" stroke-width="1.25" stroke-linejoin="miter"/>
<path d="M377.20,159.80L386.60,159.80L381.90,167.20Z" fill="#fff" stroke="#111" stroke-width="1.25" stroke-linejoin="miter"/>
<path d="M380.50,173.30L389.90,173.30L385.20,180.70Z" fill="#fff" stroke="#111" stroke-width="1.25" stroke-linejoin="miter"/>
<path d="M448.60,21.60L458.00,21.60L453.30,29.00Z" fill="#fff" stroke="#111" stroke-width="1.25" stroke-linejoin="miter"/>
<path d="M460.10,78.30L469.50,78.30L464.80,85.70Z" fill="#fff" stroke="#111" stroke-width="1.25" stroke-linejoin="miter"/>
<path d="M457.30,109.00L466.70,109.00L462.00,116.40Z" fill="#fff" stroke="#111" stroke-width="1.25" stroke-linejoin="miter"/>
<path d="M454.80,137.50L464.20,137.50L459.50,144.90Z" fill="#fff" stroke="#111" stroke-width="1.25" stroke-linejoin="miter"/>
<path d="M455.60,166.30L465.00,166.30L460.30,173.70Z" fill="#fff" stroke="#111" stroke-width="1.25" stroke-linejoin="miter"/>
<path d="M166.00,261.40L175.20,261.40L170.60,268.40Z" fill="#fff" stroke="#111" stroke-width="1.25" stroke-linejoin="miter"/>
<circle cx="107.8" cy="288.9" r="2.3" fill="#f00000" stroke="#700000" stroke-width="0.6"/>
<circle cx="112.4" cy="289.8" r="2.3" fill="#f00000" stroke="#700000" stroke-width="0.6"/>
<circle cx="118.9" cy="288.9" r="2.3" fill="#f00000" stroke="#700000" stroke-width="0.6"/>
<circle cx="106.0" cy="295.3" r="2.3" fill="#f00000" stroke="#700000" stroke-width="0.6"/>
<circle cx="122.7" cy="271.5" r="2.3" fill="#0000f0" stroke="#000070" stroke-width="0.6"/>
<circle cx="113.9" cy="273.9" r="2.3" fill="#0000f0" stroke="#000070" stroke-width="0.6"/>
<circle cx="116.5" cy="273.6" r="2.3" fill="#0000f0" stroke="#000070" stroke-width="0.6"/>
<circle cx="120.6" cy="274.7" r="2.3" fill="#0000f0" stroke="#000070" stroke-width="0.6"/>
<circle cx="124.2" cy="274.4" r="2.3" fill="#0000f0" stroke="#000070" stroke-width="0.6"/>
<circle cx="111.7" cy="277.3" r="2.3" fill="#0000f0" stroke="#000070" stroke-width="0.6"/>
<circle cx="114.9" cy="277.6" r="2.3" fill="#0000f0" stroke="#000070" stroke-width="0.6"/>
<circle cx="118.9" cy="277.1" r="2.3" fill="#0000f0" stroke="#000070" stroke-width="0.6"/>
<circle cx="123.3" cy="277.8" r="2.3" fill="#0000f0" stroke="#000070" stroke-width="0.6"/>
<circle cx="126.2" cy="277.6" r="2.3" fill="#0000f0" stroke="#000070" stroke-width="0.6"/>
<circle cx="110.3" cy="280.1" r="2.3" fill="#0000f0" stroke="#000070" stroke-width="0.6"/>
<circle cx="113.2" cy="281.1" r="2.3" fill="#0000f0" stroke="#000070" stroke-width="0.6"/>
<circle cx="116.5" cy="280.7" r="2.3" fill="#0000f0" stroke="#000070" stroke-width="0.6"/>
<circle cx="120.2" cy="281.0" r="2.3" fill="#0000f0" stroke="#000070" stroke-width="0.6"/>
<circle cx="125.1" cy="280.8" r="2.3" fill="#0000f0" stroke="#000070" stroke-width="0.6"/>
<circle cx="104.1" cy="284.1" r="2.3" fill="#0000f0" stroke="#000070" stroke-width="0.6"/>
<circle cx="107.7" cy="283.8" r="2.3" fill="#0000f0" stroke="#000070" stroke-width="0.6"/>
<circle cx="111.9" cy="284.6" r="2.3" fill="#0000f0" stroke="#000070" stroke-width="0.6"/>
<circle cx="115.2" cy="284.2" r="2.3" fill="#0000f0" stroke="#000070" stroke-width="0.6"/>
<circle cx="118.3" cy="284.2" r="2.3" fill="#0000f0" stroke="#000070" stroke-width="0.6"/>
<circle cx="123.0" cy="284.7" r="2.3" fill="#0000f0" stroke="#000070" stroke-width="0.6"/>
<circle cx="127.1" cy="283.6" r="2.3" fill="#0000f0" stroke="#000070" stroke-width="0.6"/>
<circle cx="101.7" cy="287.4" r="2.3" fill="#0000f0" stroke="#000070" stroke-width="0.6"/>
<circle cx="104.9" cy="287.1" r="2.3" fill="#0000f0" stroke="#000070" stroke-width="0.6"/>
<circle cx="109.0" cy="286.5" r="2.3" fill="#0000f0" stroke="#000070" stroke-width="0.6"/>
<circle cx="112.6" cy="287.6" r="2.3" fill="#0000f0" stroke="#000070" stroke-width="0.6"/>
<circle cx="116.5" cy="286.7" r="2.3" fill="#0000f0" stroke="#000070" stroke-width="0.6"/>
<circle cx="120.7" cy="287.7" r="2.3" fill="#0000f0" stroke="#000070" stroke-width="0.6"/>
<circle cx="124.0" cy="287.1" r="2.3" fill="#0000f0" stroke="#000070" stroke-width="0.6"/>
<circle cx="104.3" cy="291.0" r="2.3" fill="#0000f0" stroke="#000070" stroke-width="0.6"/>
<circle cx="107.2" cy="290.2" r="2.3" fill="#0000f0" stroke="#000070" stroke-width="0.6"/>
<circle cx="111.2" cy="291.0" r="2.3" fill="#0000f0" stroke="#000070" stroke-width="0.6"/>
<circle cx="115.9" cy="289.8" r="2.3" fill="#0000f0" stroke="#000070" stroke-width="0.6"/>
<circle cx="118.5" cy="290.0" r="2.3" fill="#0000f0" stroke="#000070" stroke-width="0.6"/>
<circle cx="122.4" cy="290.4" r="2.3" fill="#0000f0" stroke="#000070" stroke-width="0.6"/>
<circle cx="126.7" cy="290.0" r="2.3" fill="#0000f0" stroke="#000070" stroke-width="0.6"/>
<circle cx="101.1" cy="293.5" r="2.3" fill="#0000f0" stroke="#000070" stroke-width="0.6"/>
<circle cx="105.5" cy="293.7" r="2.3" fill="#0000f0" stroke="#000070" stroke-width="0.6"/>
<circle cx="110.2" cy="293.9" r="2.3" fill="#0000f0" stroke="#000070" stroke-width="0.6"/>
<circle cx="113.3" cy="293.8" r="2.3" fill="#0000f0" stroke="#000070" stroke-width="0.6"/>
<circle cx="117.4" cy="292.9" r="2.3" fill="#0000f0" stroke="#000070" stroke-width="0.6"/>
<circle cx="121.5" cy="294.1" r="2.3" fill="#0000f0" stroke="#000070" stroke-width="0.6"/>
<circle cx="125.3" cy="294.1" r="2.3" fill="#0000f0" stroke="#000070" stroke-width="0.6"/>
<circle cx="103.2" cy="297.1" r="2.3" fill="#0000f0" stroke="#000070" stroke-width="0.6"/>
<circle cx="106.9" cy="296.1" r="2.3" fill="#0000f0" stroke="#000070" stroke-width="0.6"/>
<circle cx="110.9" cy="296.3" r="2.3" fill="#0000f0" stroke="#000070" stroke-width="0.6"/>
<circle cx="114.9" cy="296.1" r="2.3" fill="#0000f0" stroke="#000070" stroke-width="0.6"/>
<circle cx="118.2" cy="296.3" r="2.3" fill="#0000f0" stroke="#000070" stroke-width="0.6"/>
<circle cx="122.2" cy="296.6" r="2.3" fill="#0000f0" stroke="#000070" stroke-width="0.6"/>
<circle cx="125.8" cy="297.4" r="2.3" fill="#0000f0" stroke="#000070" stroke-width="0.6"/>
<circle cx="105.3" cy="299.8" r="2.3" fill="#0000f0" stroke="#000070" stroke-width="0.6"/>
<circle cx="120.2" cy="299.4" r="2.3" fill="#0000f0" stroke="#000070" stroke-width="0.6"/>
<circle cx="181.8" cy="262.3" r="2.3" fill="#0000f0" stroke="#000070" stroke-width="0.6"/>
<circle cx="187.3" cy="266.8" r="2.3" fill="#0000f0" stroke="#000070" stroke-width="0.6"/>
<circle cx="194.5" cy="271.4" r="2.3" fill="#0000f0" stroke="#000070" stroke-width="0.6"/>
<circle cx="185.5" cy="276.8" r="2.3" fill="#0000f0" stroke="#000070" stroke-width="0.6"/>
<circle cx="198.2" cy="278.6" r="2.3" fill="#0000f0" stroke="#000070" stroke-width="0.6"/>
<circle cx="190.9" cy="282.3" r="2.3" fill="#0000f0" stroke="#000070" stroke-width="0.6"/>
<circle cx="179.0" cy="269.5" r="2.3" fill="#0000f0" stroke="#000070" stroke-width="0.6"/>
<circle cx="200.0" cy="262.3" r="2.3" fill="#0000f0" stroke="#000070" stroke-width="0.6"/>
<circle cx="75.5" cy="273.0" r="2.3" fill="#0000f0" stroke="#000070" stroke-width="0.6"/>
<circle cx="91.7" cy="259.8" r="2.3" fill="#f00000" stroke="#700000" stroke-width="0.6"/>
<circle cx="98.1" cy="263.5" r="2.3" fill="#f00000" stroke="#700000" stroke-width="0.6"/>
<circle cx="93.3" cy="270.0" r="2.3" fill="#0000f0" stroke="#000070" stroke-width="0.6"/>
<circle cx="88.9" cy="276.4" r="2.3" fill="#f00000" stroke="#700000" stroke-width="0.6"/>
<circle cx="61.3" cy="313.1" r="2.3" fill="#f00000" stroke="#700000" stroke-width="0.6"/>
<circle cx="117.4" cy="241.9" r="2.3" fill="#f00000" stroke="#700000" stroke-width="0.6"/>
<circle cx="121.6" cy="245.1" r="2.3" fill="#f00000" stroke="#700000" stroke-width="0.6"/>
<circle cx="118.0" cy="249.3" r="2.3" fill="#f00000" stroke="#700000" stroke-width="0.6"/>
<circle cx="122.6" cy="248.4" r="2.3" fill="#0000f0" stroke="#000070" stroke-width="0.6"/>
<circle cx="128.1" cy="252.9" r="2.3" fill="#0000f0" stroke="#000070" stroke-width="0.6"/>
<circle cx="133.9" cy="252.9" r="2.3" fill="#0000f0" stroke="#000070" stroke-width="0.6"/>
<circle cx="126.5" cy="256.5" r="2.3" fill="#f00000" stroke="#700000" stroke-width="0.6"/>
<circle cx="111.9" cy="259.4" r="2.3" fill="#f00000" stroke="#700000" stroke-width="0.6"/>
<circle cx="116.1" cy="263.3" r="2.3" fill="#f00000" stroke="#700000" stroke-width="0.6"/>
<circle cx="112.1" cy="259.3" r="2.3" fill="#f00000" stroke="#700000" stroke-width="0.6"/>
<circle cx="98.7" cy="263.0" r="2.3" fill="#f00000" stroke="#700000" stroke-width="0.6"/>
<circle cx="104.3" cy="264.9" r="2.3" fill="#f00000" stroke="#700000" stroke-width="0.6"/>
<circle cx="116.3" cy="263.5" r="2.3" fill="#f00000" stroke="#700000" stroke-width="0.6"/>
<circle cx="128.3" cy="264.9" r="2.3" fill="#f00000" stroke="#700000" stroke-width="0.6"/>
<circle cx="112.1" cy="268.1" r="2.3" fill="#0000f0" stroke="#000070" stroke-width="0.6"/>
<circle cx="116.3" cy="270.9" r="2.3" fill="#0000f0" stroke="#000070" stroke-width="0.6"/>
<circle cx="132.0" cy="268.1" r="2.3" fill="#0000f0" stroke="#000070" stroke-width="0.6"/>
<circle cx="137.6" cy="268.1" r="2.3" fill="#0000f0" stroke="#000070" stroke-width="0.6"/>
<circle cx="122.8" cy="272.7" r="2.3" fill="#f00000" stroke="#700000" stroke-width="0.6"/>
<circle cx="133.9" cy="272.7" r="2.3" fill="#f00000" stroke="#700000" stroke-width="0.6"/>
<circle cx="95.0" cy="270.0" r="2.3" fill="#0000f0" stroke="#000070" stroke-width="0.6"/>
<circle cx="98.5" cy="263.4" r="2.3" fill="#f00000" stroke="#700000" stroke-width="0.6"/>
<circle cx="104.1" cy="265.2" r="2.3" fill="#f00000" stroke="#700000" stroke-width="0.6"/>
<circle cx="116.1" cy="263.9" r="2.3" fill="#f00000" stroke="#700000" stroke-width="0.6"/>
<circle cx="93.4" cy="269.9" r="2.3" fill="#0000f0" stroke="#000070" stroke-width="0.6"/>
<circle cx="112.4" cy="268.0" r="2.3" fill="#0000f0" stroke="#000070" stroke-width="0.6"/>
<circle cx="88.8" cy="276.4" r="2.3" fill="#f00000" stroke="#700000" stroke-width="0.6"/>
<circle cx="116.1" cy="271.3" r="2.3" fill="#0000f0" stroke="#000070" stroke-width="0.6"/>
<circle cx="122.6" cy="272.6" r="2.3" fill="#f00000" stroke="#700000" stroke-width="0.6"/>
<circle cx="80.5" cy="285.1" r="2.3" fill="#0000f0" stroke="#000070" stroke-width="0.6"/>
<circle cx="83.2" cy="291.6" r="2.3" fill="#0000f0" stroke="#000070" stroke-width="0.6"/>
<circle cx="93.4" cy="285.1" r="2.3" fill="#f00000" stroke="#700000" stroke-width="0.6"/>
<circle cx="93.4" cy="289.8" r="2.3" fill="#0000f0" stroke="#000070" stroke-width="0.6"/>
<circle cx="97.1" cy="284.2" r="2.3" fill="#0000f0" stroke="#000070" stroke-width="0.6"/>
<circle cx="100.8" cy="281.9" r="2.3" fill="#0000f0" stroke="#000070" stroke-width="0.6"/>
<circle cx="107.3" cy="280.5" r="2.3" fill="#f00000" stroke="#700000" stroke-width="0.6"/>
<circle cx="105.0" cy="284.2" r="2.3" fill="#f00000" stroke="#700000" stroke-width="0.6"/>
<circle cx="115.2" cy="275.9" r="2.3" fill="#0000f0" stroke="#000070" stroke-width="0.6"/>
<circle cx="119.8" cy="276.8" r="2.3" fill="#0000f0" stroke="#000070" stroke-width="0.6"/>
<circle cx="123.5" cy="278.7" r="2.3" fill="#0000f0" stroke="#000070" stroke-width="0.6"/>
<circle cx="114.3" cy="280.5" r="2.3" fill="#0000f0" stroke="#000070" stroke-width="0.6"/>
<circle cx="118.9" cy="282.4" r="2.3" fill="#0000f0" stroke="#000070" stroke-width="0.6"/>
<circle cx="124.4" cy="283.3" r="2.3" fill="#0000f0" stroke="#000070" stroke-width="0.6"/>
<circle cx="110.6" cy="285.1" r="2.3" fill="#0000f0" stroke="#000070" stroke-width="0.6"/>
<circle cx="115.2" cy="287.0" r="2.3" fill="#0000f0" stroke="#000070" stroke-width="0.6"/>
<circle cx="121.7" cy="287.0" r="2.3" fill="#0000f0" stroke="#000070" stroke-width="0.6"/>
<circle cx="126.3" cy="287.9" r="2.3" fill="#0000f0" stroke="#000070" stroke-width="0.6"/>
<circle cx="106.9" cy="289.8" r="2.3" fill="#0000f0" stroke="#000070" stroke-width="0.6"/>
<circle cx="111.5" cy="291.6" r="2.3" fill="#0000f0" stroke="#000070" stroke-width="0.6"/>
<circle cx="117.0" cy="291.6" r="2.3" fill="#0000f0" stroke="#000070" stroke-width="0.6"/>
<circle cx="122.6" cy="292.6" r="2.3" fill="#0000f0" stroke="#000070" stroke-width="0.6"/>
<circle cx="126.3" cy="293.5" r="2.3" fill="#0000f0" stroke="#000070" stroke-width="0.6"/>
<circle cx="104.1" cy="295.3" r="2.3" fill="#0000f0" stroke="#000070" stroke-width="0.6"/>
<circle cx="109.6" cy="297.2" r="2.3" fill="#0000f0" stroke="#000070" stroke-width="0.6"/>
<circle cx="116.1" cy="296.3" r="2.3" fill="#0000f0" stroke="#000070" stroke-width="0.6"/>
<circle cx="121.7" cy="297.2" r="2.3" fill="#0000f0" stroke="#000070" stroke-width="0.6"/>
<circle cx="126.3" cy="299.0" r="2.3" fill="#0000f0" stroke="#000070" stroke-width="0.6"/>
<circle cx="101.3" cy="300.0" r="2.3" fill="#0000f0" stroke="#000070" stroke-width="0.6"/>
<circle cx="105.0" cy="300.9" r="2.3" fill="#0000f0" stroke="#000070" stroke-width="0.6"/>
<circle cx="110.6" cy="300.9" r="2.3" fill="#0000f0" stroke="#000070" stroke-width="0.6"/>
<circle cx="104.1" cy="285.1" r="2.3" fill="#f00000" stroke="#700000" stroke-width="0.6"/>
<circle cx="95.7" cy="294.4" r="2.3" fill="#f00000" stroke="#700000" stroke-width="0.6"/>
<circle cx="94.8" cy="297.2" r="2.3" fill="#f00000" stroke="#700000" stroke-width="0.6"/>
<circle cx="101.3" cy="298.6" r="2.3" fill="#f00000" stroke="#700000" stroke-width="0.6"/>
<circle cx="116.1" cy="300.0" r="2.3" fill="#f00000" stroke="#700000" stroke-width="0.6"/>
<circle cx="120.7" cy="300.0" r="2.3" fill="#f00000" stroke="#700000" stroke-width="0.6"/>
<circle cx="112.4" cy="300.9" r="2.3" fill="#f00000" stroke="#700000" stroke-width="0.6"/>
<circle cx="98.5" cy="296.3" r="2.3" fill="#0000f0" stroke="#000070" stroke-width="0.6"/>
<circle cx="83.2" cy="292.5" r="2.3" fill="#0000f0" stroke="#000070" stroke-width="0.6"/>
<circle cx="95.9" cy="294.7" r="2.3" fill="#f00000" stroke="#700000" stroke-width="0.6"/>
<circle cx="95.0" cy="297.5" r="2.3" fill="#f00000" stroke="#700000" stroke-width="0.6"/>
<circle cx="98.2" cy="296.1" r="2.3" fill="#0000f0" stroke="#000070" stroke-width="0.6"/>
<circle cx="100.9" cy="299.3" r="2.3" fill="#f00000" stroke="#700000" stroke-width="0.6"/>
<circle cx="104.5" cy="296.1" r="2.3" fill="#f00000" stroke="#700000" stroke-width="0.6"/>
<circle cx="96.8" cy="302.5" r="2.3" fill="#0000f0" stroke="#000070" stroke-width="0.6"/>
<circle cx="95.9" cy="307.0" r="2.3" fill="#0000f0" stroke="#000070" stroke-width="0.6"/>
<circle cx="101.8" cy="302.5" r="2.3" fill="#0000f0" stroke="#000070" stroke-width="0.6"/>
<circle cx="105.0" cy="300.2" r="2.3" fill="#0000f0" stroke="#000070" stroke-width="0.6"/>
<circle cx="111.8" cy="297.5" r="2.3" fill="#0000f0" stroke="#000070" stroke-width="0.6"/>
<circle cx="126.4" cy="299.3" r="2.3" fill="#0000f0" stroke="#000070" stroke-width="0.6"/>
<circle cx="110.0" cy="302.0" r="2.3" fill="#f00000" stroke="#700000" stroke-width="0.6"/>
<circle cx="115.5" cy="301.1" r="2.3" fill="#f00000" stroke="#700000" stroke-width="0.6"/>
<circle cx="120.0" cy="301.1" r="2.3" fill="#f00000" stroke="#700000" stroke-width="0.6"/>
<circle cx="123.6" cy="300.2" r="2.3" fill="#f00000" stroke="#700000" stroke-width="0.6"/>
<circle cx="110.0" cy="305.2" r="2.3" fill="#f00000" stroke="#700000" stroke-width="0.6"/>
<circle cx="118.2" cy="304.7" r="2.3" fill="#f00000" stroke="#700000" stroke-width="0.6"/>
<circle cx="110.0" cy="308.4" r="2.3" fill="#f00000" stroke="#700000" stroke-width="0.6"/>
<circle cx="114.1" cy="309.7" r="2.3" fill="#f00000" stroke="#700000" stroke-width="0.6"/>
<circle cx="115.4" cy="309.6" r="2.3" fill="#f00000" stroke="#700000" stroke-width="0.6"/>
<circle cx="118.0" cy="272.0" r="2.3" fill="#0000f0" stroke="#000070" stroke-width="0.6"/>
<circle cx="121.0" cy="275.0" r="2.3" fill="#0000f0" stroke="#000070" stroke-width="0.6"/>
<circle cx="125.0" cy="276.0" r="2.3" fill="#0000f0" stroke="#000070" stroke-width="0.6"/>
<circle cx="119.0" cy="280.0" r="2.3" fill="#0000f0" stroke="#000070" stroke-width="0.6"/>
<circle cx="123.0" cy="281.0" r="2.3" fill="#0000f0" stroke="#000070" stroke-width="0.6"/>
<circle cx="119.0" cy="285.0" r="2.3" fill="#0000f0" stroke="#000070" stroke-width="0.6"/>
<circle cx="125.0" cy="289.0" r="2.3" fill="#0000f0" stroke="#000070" stroke-width="0.6"/>
<circle cx="120.0" cy="294.0" r="2.3" fill="#0000f0" stroke="#000070" stroke-width="0.6"/>
<circle cx="128.4" cy="265.0" r="2.3" fill="#f00000" stroke="#700000" stroke-width="0.6"/>
<circle cx="122.8" cy="272.4" r="2.3" fill="#f00000" stroke="#700000" stroke-width="0.6"/>
<circle cx="133.6" cy="272.8" r="2.3" fill="#f00000" stroke="#700000" stroke-width="0.6"/>
<circle cx="135.8" cy="275.0" r="2.3" fill="#f00000" stroke="#700000" stroke-width="0.6"/>
<circle cx="132.8" cy="278.7" r="2.3" fill="#f00000" stroke="#700000" stroke-width="0.6"/>
<circle cx="136.5" cy="279.1" r="2.3" fill="#0000f0" stroke="#000070" stroke-width="0.6"/>
<circle cx="137.3" cy="282.8" r="2.3" fill="#f00000" stroke="#700000" stroke-width="0.6"/>
<circle cx="136.9" cy="286.9" r="2.3" fill="#f00000" stroke="#700000" stroke-width="0.6"/>
<circle cx="132.4" cy="268.4" r="2.3" fill="#0000f0" stroke="#000070" stroke-width="0.6"/>
<circle cx="137.6" cy="268.0" r="2.3" fill="#0000f0" stroke="#000070" stroke-width="0.6"/>
<circle cx="136.7" cy="287.0" r="2.3" fill="#f00000" stroke="#700000" stroke-width="0.6"/>
<circle cx="136.3" cy="293.1" r="2.3" fill="#f00000" stroke="#700000" stroke-width="0.6"/>
<circle cx="142.0" cy="291.9" r="2.3" fill="#f00000" stroke="#700000" stroke-width="0.6"/>
<circle cx="146.1" cy="288.2" r="2.3" fill="#f00000" stroke="#700000" stroke-width="0.6"/>
<circle cx="142.8" cy="302.8" r="2.3" fill="#f00000" stroke="#700000" stroke-width="0.6"/>
<circle cx="145.0" cy="279.1" r="2.3" fill="#f00000" stroke="#700000" stroke-width="0.6"/>
<circle cx="146.1" cy="288.0" r="2.3" fill="#f00000" stroke="#700000" stroke-width="0.6"/>
<circle cx="148.1" cy="317.8" r="2.3" fill="#0000f0" stroke="#000070" stroke-width="0.6"/>
<circle cx="126.2" cy="299.2" r="2.3" fill="#0000f0" stroke="#000070" stroke-width="0.6"/>
<circle cx="161.8" cy="238.9" r="2.3" fill="#0000f0" stroke="#000070" stroke-width="0.6"/>
<circle cx="165.9" cy="240.8" r="2.3" fill="#0000f0" stroke="#000070" stroke-width="0.6"/>
<circle cx="170.1" cy="249.6" r="2.3" fill="#0000f0" stroke="#000070" stroke-width="0.6"/>
<circle cx="167.8" cy="252.8" r="2.3" fill="#0000f0" stroke="#000070" stroke-width="0.6"/>
<circle cx="175.6" cy="249.6" r="2.3" fill="#0000f0" stroke="#000070" stroke-width="0.6"/>
<circle cx="189.1" cy="249.6" r="2.3" fill="#0000f0" stroke="#000070" stroke-width="0.6"/>
<circle cx="150.2" cy="263.5" r="2.3" fill="#0000f0" stroke="#000070" stroke-width="0.6"/>
<circle cx="162.7" cy="261.6" r="2.3" fill="#0000f0" stroke="#000070" stroke-width="0.6"/>
<circle cx="161.8" cy="266.7" r="2.3" fill="#0000f0" stroke="#000070" stroke-width="0.6"/>
<circle cx="165.5" cy="269.5" r="2.3" fill="#0000f0" stroke="#000070" stroke-width="0.6"/>
<circle cx="170.6" cy="274.6" r="2.3" fill="#0000f0" stroke="#000070" stroke-width="0.6"/>
<circle cx="151.6" cy="270.9" r="2.3" fill="#0000f0" stroke="#000070" stroke-width="0.6"/>
<circle cx="149.3" cy="274.1" r="2.3" fill="#0000f0" stroke="#000070" stroke-width="0.6"/>
<circle cx="153.0" cy="276.9" r="2.3" fill="#0000f0" stroke="#000070" stroke-width="0.6"/>
<circle cx="149.9" cy="263.6" r="2.3" fill="#0000f0" stroke="#000070" stroke-width="0.6"/>
<circle cx="149.9" cy="273.6" r="2.3" fill="#0000f0" stroke="#000070" stroke-width="0.6"/>
<circle cx="149.1" cy="276.5" r="2.3" fill="#0000f0" stroke="#000070" stroke-width="0.6"/>
<circle cx="177.0" cy="259.3" r="2.3" fill="#0000f0" stroke="#000070" stroke-width="0.6"/>
<circle cx="182.6" cy="259.3" r="2.3" fill="#0000f0" stroke="#000070" stroke-width="0.6"/>
<circle cx="187.2" cy="259.3" r="2.3" fill="#0000f0" stroke="#000070" stroke-width="0.6"/>
<circle cx="178.9" cy="263.9" r="2.3" fill="#0000f0" stroke="#000070" stroke-width="0.6"/>
<circle cx="184.0" cy="264.0" r="2.3" fill="#0000f0" stroke="#000070" stroke-width="0.6"/>
<circle cx="177.0" cy="267.6" r="2.3" fill="#0000f0" stroke="#000070" stroke-width="0.6"/>
<circle cx="180.7" cy="270.4" r="2.3" fill="#0000f0" stroke="#000070" stroke-width="0.6"/>
<circle cx="186.3" cy="268.6" r="2.3" fill="#0000f0" stroke="#000070" stroke-width="0.6"/>
<circle cx="174.3" cy="270.4" r="2.3" fill="#0000f0" stroke="#000070" stroke-width="0.6"/>
<circle cx="178.9" cy="273.2" r="2.3" fill="#0000f0" stroke="#000070" stroke-width="0.6"/>
<circle cx="184.4" cy="275.0" r="2.3" fill="#0000f0" stroke="#000070" stroke-width="0.6"/>
<circle cx="168.7" cy="268.6" r="2.3" fill="#0000f0" stroke="#000070" stroke-width="0.6"/>
<circle cx="202.5" cy="239.0" r="2.3" fill="#0000f0" stroke="#000070" stroke-width="0.6"/>
<circle cx="212.5" cy="239.0" r="2.3" fill="#0000f0" stroke="#000070" stroke-width="0.6"/>
<circle cx="189.5" cy="249.5" r="2.3" fill="#0000f0" stroke="#000070" stroke-width="0.6"/>
<circle cx="194.5" cy="253.0" r="2.3" fill="#0000f0" stroke="#000070" stroke-width="0.6"/>
<circle cx="199.0" cy="249.5" r="2.3" fill="#0000f0" stroke="#000070" stroke-width="0.6"/>
<circle cx="202.5" cy="249.5" r="2.3" fill="#0000f0" stroke="#000070" stroke-width="0.6"/>
<circle cx="200.0" cy="251.5" r="2.3" fill="#0000f0" stroke="#000070" stroke-width="0.6"/>
<circle cx="224.0" cy="249.5" r="2.3" fill="#0000f0" stroke="#000070" stroke-width="0.6"/>
<circle cx="222.5" cy="254.5" r="2.3" fill="#0000f0" stroke="#000070" stroke-width="0.6"/>
<circle cx="211.0" cy="257.5" r="2.3" fill="#0000f0" stroke="#000070" stroke-width="0.6"/>
<circle cx="225.0" cy="260.5" r="2.3" fill="#0000f0" stroke="#000070" stroke-width="0.6"/>
<circle cx="220.0" cy="263.5" r="2.3" fill="#0000f0" stroke="#000070" stroke-width="0.6"/>
<circle cx="188.0" cy="259.0" r="2.3" fill="#0000f0" stroke="#000070" stroke-width="0.6"/>
<circle cx="195.0" cy="259.0" r="2.3" fill="#0000f0" stroke="#000070" stroke-width="0.6"/>
<circle cx="200.0" cy="257.0" r="2.3" fill="#0000f0" stroke="#000070" stroke-width="0.6"/>
<circle cx="204.0" cy="260.5" r="2.3" fill="#0000f0" stroke="#000070" stroke-width="0.6"/>
<circle cx="191.0" cy="264.0" r="2.3" fill="#0000f0" stroke="#000070" stroke-width="0.6"/>
<circle cx="197.0" cy="263.0" r="2.3" fill="#0000f0" stroke="#000070" stroke-width="0.6"/>
<circle cx="202.0" cy="264.0" r="2.3" fill="#0000f0" stroke="#000070" stroke-width="0.6"/>
<circle cx="205.0" cy="267.0" r="2.3" fill="#0000f0" stroke="#000070" stroke-width="0.6"/>
<circle cx="187.0" cy="268.0" r="2.3" fill="#0000f0" stroke="#000070" stroke-width="0.6"/>
<circle cx="193.0" cy="268.0" r="2.3" fill="#0000f0" stroke="#000070" stroke-width="0.6"/>
<circle cx="199.0" cy="271.0" r="2.3" fill="#0000f0" stroke="#000070" stroke-width="0.6"/>
<circle cx="191.0" cy="273.0" r="2.3" fill="#0000f0" stroke="#000070" stroke-width="0.6"/>
<circle cx="197.0" cy="274.0" r="2.3" fill="#0000f0" stroke="#000070" stroke-width="0.6"/>
<circle cx="211.5" cy="266.5" r="2.3" fill="#0000f0" stroke="#000070" stroke-width="0.6"/>
<circle cx="210.0" cy="271.5" r="2.3" fill="#0000f0" stroke="#000070" stroke-width="0.6"/>
<circle cx="216.5" cy="273.0" r="2.3" fill="#0000f0" stroke="#000070" stroke-width="0.6"/>
<circle cx="206.0" cy="276.0" r="2.3" fill="#0000f0" stroke="#000070" stroke-width="0.6"/>
<circle cx="145.1" cy="279.1" r="2.3" fill="#f00000" stroke="#700000" stroke-width="0.6"/>
<circle cx="146.4" cy="288.2" r="2.3" fill="#f00000" stroke="#700000" stroke-width="0.6"/>
<circle cx="141.8" cy="291.8" r="2.3" fill="#f00000" stroke="#700000" stroke-width="0.6"/>
<circle cx="142.7" cy="302.7" r="2.3" fill="#f00000" stroke="#700000" stroke-width="0.6"/>
<circle cx="150.9" cy="271.8" r="2.3" fill="#0000f0" stroke="#000070" stroke-width="0.6"/>
<circle cx="152.7" cy="277.3" r="2.3" fill="#0000f0" stroke="#000070" stroke-width="0.6"/>
<circle cx="161.8" cy="280.9" r="2.3" fill="#0000f0" stroke="#000070" stroke-width="0.6"/>
<circle cx="169.1" cy="280.9" r="2.3" fill="#0000f0" stroke="#000070" stroke-width="0.6"/>
<circle cx="165.5" cy="271.8" r="2.3" fill="#0000f0" stroke="#000070" stroke-width="0.6"/>
<circle cx="170.9" cy="274.5" r="2.3" fill="#0000f0" stroke="#000070" stroke-width="0.6"/>
<circle cx="177.3" cy="290.0" r="2.3" fill="#0000f0" stroke="#000070" stroke-width="0.6"/>
<circle cx="183.6" cy="271.8" r="2.3" fill="#0000f0" stroke="#000070" stroke-width="0.6"/>
<circle cx="183.6" cy="276.4" r="2.3" fill="#0000f0" stroke="#000070" stroke-width="0.6"/>
<circle cx="185.5" cy="282.7" r="2.3" fill="#0000f0" stroke="#000070" stroke-width="0.6"/>
<circle cx="186.4" cy="288.2" r="2.3" fill="#0000f0" stroke="#000070" stroke-width="0.6"/>
<circle cx="190.9" cy="281.8" r="2.3" fill="#0000f0" stroke="#000070" stroke-width="0.6"/>
<circle cx="192.7" cy="277.3" r="2.3" fill="#0000f0" stroke="#000070" stroke-width="0.6"/>
<circle cx="196.4" cy="274.5" r="2.3" fill="#0000f0" stroke="#000070" stroke-width="0.6"/>
<circle cx="200.9" cy="271.8" r="2.3" fill="#0000f0" stroke="#000070" stroke-width="0.6"/>
<circle cx="205.5" cy="276.4" r="2.3" fill="#0000f0" stroke="#000070" stroke-width="0.6"/>
<circle cx="210.0" cy="271.8" r="2.3" fill="#0000f0" stroke="#000070" stroke-width="0.6"/>
<circle cx="216.4" cy="272.7" r="2.3" fill="#0000f0" stroke="#000070" stroke-width="0.6"/>
<circle cx="186.9" cy="305.5" r="2.3" fill="#0000f0" stroke="#000070" stroke-width="0.6"/>
<circle cx="223.6" cy="308.5" r="2.3" fill="#0000f0" stroke="#000070" stroke-width="0.6"/>
<circle cx="94.3" cy="284.0" r="2.3" fill="#f00000" stroke="#700000" stroke-width="0.6"/>
<circle cx="99.2" cy="288.5" r="2.3" fill="#f00000" stroke="#700000" stroke-width="0.6"/>
<circle cx="96.5" cy="292.0" r="2.3" fill="#f00000" stroke="#700000" stroke-width="0.6"/>
<circle cx="102.5" cy="292.5" r="2.3" fill="#f00000" stroke="#700000" stroke-width="0.6"/>
<circle cx="98.0" cy="299.5" r="2.3" fill="#f00000" stroke="#700000" stroke-width="0.6"/>
<circle cx="107.5" cy="304.0" r="2.3" fill="#f00000" stroke="#700000" stroke-width="0.6"/>
<circle cx="111.0" cy="304.5" r="2.3" fill="#f00000" stroke="#700000" stroke-width="0.6"/>
<circle cx="97.5" cy="282.0" r="2.3" fill="#0000f0" stroke="#000070" stroke-width="0.6"/>
<circle cx="92.5" cy="289.5" r="2.3" fill="#0000f0" stroke="#000070" stroke-width="0.6"/>
<circle cx="96.5" cy="296.0" r="2.3" fill="#0000f0" stroke="#000070" stroke-width="0.6"/>
<circle cx="100.5" cy="301.5" r="2.3" fill="#0000f0" stroke="#000070" stroke-width="0.6"/>
<circle cx="190.0" cy="256.0" r="2.3" fill="#0000f0" stroke="#000070" stroke-width="0.6"/>
<circle cx="196.0" cy="252.0" r="2.3" fill="#0000f0" stroke="#000070" stroke-width="0.6"/>
<circle cx="192.0" cy="262.0" r="2.3" fill="#0000f0" stroke="#000070" stroke-width="0.6"/>
<circle cx="198.0" cy="266.0" r="2.3" fill="#0000f0" stroke="#000070" stroke-width="0.6"/>
<circle cx="204.0" cy="270.0" r="2.3" fill="#0000f0" stroke="#000070" stroke-width="0.6"/>
<circle cx="207.0" cy="263.0" r="2.3" fill="#0000f0" stroke="#000070" stroke-width="0.6"/>
<circle cx="174.5" cy="265.5" r="2.3" fill="#0000f0" stroke="#000070" stroke-width="0.6"/>
<circle cx="163.6" cy="267.0" r="2.3" fill="#0000f0" stroke="#000070" stroke-width="0.6"/>
<circle cx="187.9" cy="265.5" r="2.3" fill="#0000f0" stroke="#000070" stroke-width="0.6"/>
<circle cx="192.4" cy="271.8" r="2.3" fill="#0000f0" stroke="#000070" stroke-width="0.6"/>
<circle cx="195.5" cy="269.3" r="2.3" fill="#0000f0" stroke="#000070" stroke-width="0.6"/>
<circle cx="186.6" cy="274.4" r="2.3" fill="#0000f0" stroke="#000070" stroke-width="0.6"/>
<circle cx="196.8" cy="274.4" r="2.3" fill="#0000f0" stroke="#000070" stroke-width="0.6"/>
<circle cx="180.3" cy="265.5" r="2.3" fill="#0000f0" stroke="#000070" stroke-width="0.6"/>
<circle cx="200.6" cy="266.7" r="2.3" fill="#0000f0" stroke="#000070" stroke-width="0.6"/>
<path d="M118.90,251.10L128.10,251.10L123.50,258.10Z" fill="#fff" stroke="#111" stroke-width="1.25" stroke-linejoin="miter"/>
<path d="M120.20,258.50L129.40,258.50L124.80,265.50Z" fill="#fff" stroke="#111" stroke-width="1.25" stroke-linejoin="miter"/>
<path d="M120.10,264.10L129.30,264.10L124.70,271.10Z" fill="#fff" stroke="#111" stroke-width="1.25" stroke-linejoin="miter"/>
<path d="M122.80,268.00L132.00,268.00L127.40,275.00Z" fill="#fff" stroke="#111" stroke-width="1.25" stroke-linejoin="miter"/>
<path d="M124.50,273.50L133.70,273.50L129.10,280.50Z" fill="#fff" stroke="#111" stroke-width="1.25" stroke-linejoin="miter"/>
<path d="M126.20,281.50L135.40,281.50L130.80,288.50Z" fill="#fff" stroke="#111" stroke-width="1.25" stroke-linejoin="miter"/>
<path d="M127.00,289.10L136.20,289.10L131.60,296.10Z" fill="#fff" stroke="#111" stroke-width="1.25" stroke-linejoin="miter"/>
<path d="M129.10,296.20L138.30,296.20L133.70,303.20Z" fill="#fff" stroke="#111" stroke-width="1.25" stroke-linejoin="miter"/>
<path d="M130.30,304.20L139.50,304.20L134.90,311.20Z" fill="#fff" stroke="#111" stroke-width="1.25" stroke-linejoin="miter"/>
<path d="M207.20,275.70L216.40,275.70L211.80,282.70Z" fill="#fff" stroke="#111" stroke-width="1.25" stroke-linejoin="miter"/>
<path d="M128.20,362.30L137.40,362.30L132.80,369.30Z" fill="#fff" stroke="#111" stroke-width="1.25" stroke-linejoin="miter"/>
<path d="M137.70,367.20L146.90,367.20L142.30,374.20Z" fill="#fff" stroke="#111" stroke-width="1.25" stroke-linejoin="miter"/>
<path d="M139.20,369.00L148.40,369.00L143.80,376.00Z" fill="#fff" stroke="#111" stroke-width="1.25" stroke-linejoin="miter"/>
<path d="M140.60,371.70L149.80,371.70L145.20,378.70Z" fill="#fff" stroke="#111" stroke-width="1.25" stroke-linejoin="miter"/>
<line x1="298.30" y1="277.90" x2="298.90" y2="387.40" stroke="#a0a0a0" stroke-width="1.0"/>
<line x1="298.30" y1="277.90" x2="327.50" y2="239.40" stroke="#a0a0a0" stroke-width="1.0"/>
<line x1="327.50" y1="239.40" x2="327.90" y2="348.00" stroke="#a0a0a0" stroke-width="1.0"/>
<line x1="327.50" y1="239.40" x2="489.20" y2="245.40" stroke="#a0a0a0" stroke-width="1.0"/>
<line x1="489.20" y1="245.40" x2="489.60" y2="355.20" stroke="#a0a0a0" stroke-width="1.0"/>
<line x1="327.90" y1="348.00" x2="489.60" y2="355.20" stroke="#a0a0a0" stroke-width="1.0"/>
<line x1="298.90" y1="387.40" x2="327.90" y2="348.00" stroke="#a0a0a0" stroke-width="1.0"/>
<line x1="298.90" y1="387.40" x2="461.20" y2="393.90" stroke="#a0a0a0" stroke-width="1.0"/>
<line x1="461.20" y1="393.90" x2="489.60" y2="355.20" stroke="#a0a0a0" stroke-width="1.0"/>
<line x1="295.30" y1="277.90" x2="298.30" y2="277.90" stroke="#a0a0a0" stroke-width="1.0"/>
<line x1="295.60" y1="332.65" x2="298.60" y2="332.65" stroke="#a0a0a0" stroke-width="1.0"/>
<line x1="295.90" y1="387.40" x2="298.90" y2="387.40" stroke="#a0a0a0" stroke-width="1.0"/>
<line x1="298.90" y1="387.40" x2="301.46" y2="383.92" stroke="#a0a0a0" stroke-width="1.0"/>
<line x1="331.36" y1="388.70" x2="333.92" y2="385.22" stroke="#a0a0a0" stroke-width="1.0"/>
<line x1="363.82" y1="390.00" x2="366.38" y2="386.52" stroke="#a0a0a0" stroke-width="1.0"/>
<line x1="396.28" y1="391.30" x2="398.84" y2="387.82" stroke="#a0a0a0" stroke-width="1.0"/>
<line x1="428.74" y1="392.60" x2="431.30" y2="389.12" stroke="#a0a0a0" stroke-width="1.0"/>
<line x1="461.20" y1="393.90" x2="463.76" y2="390.42" stroke="#a0a0a0" stroke-width="1.0"/>
<line x1="461.20" y1="393.90" x2="454.71" y2="393.64" stroke="#a0a0a0" stroke-width="1.0"/>
<line x1="470.67" y1="381.00" x2="464.17" y2="380.74" stroke="#a0a0a0" stroke-width="1.0"/>
<line x1="480.13" y1="368.10" x2="473.64" y2="367.84" stroke="#a0a0a0" stroke-width="1.0"/>
<line x1="489.60" y1="355.20" x2="483.11" y2="354.94" stroke="#a0a0a0" stroke-width="1.0"/>
<text x="292.00" y="281.50" font-size="10.3" text-anchor="end" fill="#333333">30</text>
<text x="292.00" y="336.60" font-size="10.3" text-anchor="end" fill="#333333">40</text>
<text x="292.00" y="390.90" font-size="10.3" text-anchor="end" fill="#333333">50</text>
<text x="293.20" y="402.90" font-size="10.3" text-anchor="middle" fill="#333333">35</text>
<text x="323.90" y="404.70" font-size="10.3" text-anchor="middle" fill="#333333">55</text>
<text x="354.90" y="406.00" font-size="10.3" text-anchor="middle" fill="#333333">75</text>
<text x="385.50" y="407.90" font-size="10.3" text-anchor="middle" fill="#333333">95</text>
<text x="418.50" y="409.00" font-size="10.3" text-anchor="middle" fill="#333333">115</text>
<text x="449.00" y="410.00" font-size="10.3" text-anchor="middle" fill="#333333">135</text>
<text x="471.30" y="404.20" font-size="10.3" text-anchor="middle" fill="#333333">5</text>
<text x="483.40" y="391.80" font-size="10.3" text-anchor="middle" fill="#333333">35</text>
<text x="492.00" y="379.50" font-size="10.3" text-anchor="middle" fill="#333333">65</text>
<text x="501.20" y="367.40" font-size="10.3" text-anchor="middle" fill="#333333">95</text>
<text x="361.6" y="419.5" font-size="11.7" text-anchor="middle" fill="#333333">North (m)</text>
<text x="519.0" y="411.8" font-size="11.7" text-anchor="middle" fill="#333333">East (m)</text>
<text transform="translate(274.8,332.5) rotate(-90)" font-size="11.7" text-anchor="middle" fill="#333333">Depth (m)</text>
<text x="259.4" y="232.4" font-size="11.7" fill="#333333">(d)</text>
<path d="M352.30,289.30L361.70,289.30L357.00,296.30Z" fill="#fff" stroke="#111" stroke-width="1.15" stroke-linejoin="miter"/>
<path d="M350.33,299.10L359.73,299.10L355.03,306.10Z" fill="#fff" stroke="#111" stroke-width="1.15" stroke-linejoin="miter"/>
<path d="M350.26,295.00L359.66,295.00L354.96,302.00Z" fill="#fff" stroke="#111" stroke-width="1.15" stroke-linejoin="miter"/>
<path d="M350.19,290.90L359.59,290.90L354.89,297.90Z" fill="#fff" stroke="#111" stroke-width="1.15" stroke-linejoin="miter"/>
<path d="M350.12,286.80L359.52,286.80L354.82,293.80Z" fill="#fff" stroke="#111" stroke-width="1.15" stroke-linejoin="miter"/>
<path d="M350.05,282.70L359.45,282.70L354.75,289.70Z" fill="#fff" stroke="#111" stroke-width="1.15" stroke-linejoin="miter"/>
<path d="M349.98,278.60L359.38,278.60L354.68,285.60Z" fill="#fff" stroke="#111" stroke-width="1.15" stroke-linejoin="miter"/>
<path d="M349.91,274.50L359.31,274.50L354.61,281.50Z" fill="#fff" stroke="#111" stroke-width="1.15" stroke-linejoin="miter"/>
<path d="M349.84,270.40L359.24,270.40L354.54,277.40Z" fill="#fff" stroke="#111" stroke-width="1.15" stroke-linejoin="miter"/>
<path d="M349.77,266.30L359.17,266.30L354.47,273.30Z" fill="#fff" stroke="#111" stroke-width="1.15" stroke-linejoin="miter"/>
<path d="M349.70,262.20L359.10,262.20L354.40,269.20Z" fill="#fff" stroke="#111" stroke-width="1.15" stroke-linejoin="miter"/>
<path d="M325.90,290.60L335.50,290.60L330.70,297.80Z" fill="#fff" stroke="#111" stroke-width="1.15" stroke-linejoin="miter"/>
<path d="M335.70,289.60L345.30,289.60L340.50,296.80Z" fill="#fff" stroke="#111" stroke-width="1.15" stroke-linejoin="miter"/>
<circle cx="371.9" cy="283.2" r="1.5" fill="#0000c8" stroke="#000040" stroke-width="0.45"/>
<circle cx="375.4" cy="279.0" r="1.5" fill="#0000c8" stroke="#000040" stroke-width="0.45"/>
<circle cx="372.3" cy="284.4" r="1.5" fill="#0000c8" stroke="#000040" stroke-width="0.45"/>
<circle cx="369.9" cy="281.0" r="1.5" fill="#0000c8" stroke="#000040" stroke-width="0.45"/>
<circle cx="373.2" cy="293.7" r="1.5" fill="#0000c8" stroke="#000040" stroke-width="0.45"/>
<circle cx="369.2" cy="271.7" r="1.5" fill="#0000c8" stroke="#000040" stroke-width="0.45"/>
<circle cx="369.2" cy="294.4" r="1.5" fill="#0000c8" stroke="#000040" stroke-width="0.45"/>
<circle cx="373.7" cy="259.9" r="1.5" fill="#0000c8" stroke="#000040" stroke-width="0.45"/>
<circle cx="375.9" cy="301.4" r="1.5" fill="#0000c8" stroke="#000040" stroke-width="0.45"/>
<circle cx="373.4" cy="285.7" r="1.5" fill="#0000c8" stroke="#000040" stroke-width="0.45"/>
<circle cx="369.7" cy="258.7" r="1.5" fill="#0000c8" stroke="#000040" stroke-width="0.45"/>
<circle cx="372.5" cy="260.7" r="1.5" fill="#0000c8" stroke="#000040" stroke-width="0.45"/>
<circle cx="369.9" cy="268.9" r="1.5" fill="#0000c8" stroke="#000040" stroke-width="0.45"/>
<circle cx="368.7" cy="278.9" r="1.5" fill="#0000c8" stroke="#000040" stroke-width="0.45"/>
<circle cx="371.8" cy="295.9" r="1.5" fill="#0000c8" stroke="#000040" stroke-width="0.45"/>
<circle cx="372.4" cy="286.8" r="1.5" fill="#0000c8" stroke="#000040" stroke-width="0.45"/>
<circle cx="372.2" cy="287.8" r="1.5" fill="#0000c8" stroke="#000040" stroke-width="0.45"/>
<circle cx="371.9" cy="270.5" r="1.5" fill="#0000c8" stroke="#000040" stroke-width="0.45"/>
<circle cx="376.0" cy="302.8" r="1.5" fill="#0000c8" stroke="#000040" stroke-width="0.45"/>
<circle cx="374.8" cy="289.9" r="1.5" fill="#0000c8" stroke="#000040" stroke-width="0.45"/>
<circle cx="370.9" cy="268.3" r="1.5" fill="#0000c8" stroke="#000040" stroke-width="0.45"/>
<circle cx="370.7" cy="261.2" r="1.5" fill="#0000c8" stroke="#000040" stroke-width="0.45"/>
<circle cx="374.2" cy="276.0" r="1.5" fill="#0000c8" stroke="#000040" stroke-width="0.45"/>
<circle cx="374.8" cy="275.4" r="1.5" fill="#0000c8" stroke="#000040" stroke-width="0.45"/>
<circle cx="375.7" cy="296.1" r="1.5" fill="#0000c8" stroke="#000040" stroke-width="0.45"/>
<circle cx="368.5" cy="267.4" r="1.5" fill="#0000c8" stroke="#000040" stroke-width="0.45"/>
<circle cx="375.3" cy="279.1" r="1.5" fill="#0000c8" stroke="#000040" stroke-width="0.45"/>
<circle cx="375.9" cy="275.9" r="1.5" fill="#0000c8" stroke="#000040" stroke-width="0.45"/>
<circle cx="369.0" cy="286.3" r="1.5" fill="#0000c8" stroke="#000040" stroke-width="0.45"/>
<circle cx="374.3" cy="270.1" r="1.5" fill="#0000c8" stroke="#000040" stroke-width="0.45"/>
<circle cx="369.2" cy="273.0" r="1.5" fill="#0000c8" stroke="#000040" stroke-width="0.45"/>
<circle cx="375.7" cy="292.1" r="1.5" fill="#0000c8" stroke="#000040" stroke-width="0.45"/>
<circle cx="369.4" cy="269.1" r="1.5" fill="#0000c8" stroke="#000040" stroke-width="0.45"/>
<circle cx="369.3" cy="260.7" r="1.5" fill="#0000c8" stroke="#000040" stroke-width="0.45"/>
<circle cx="374.5" cy="266.0" r="1.5" fill="#0000c8" stroke="#000040" stroke-width="0.45"/>
<circle cx="372.7" cy="278.1" r="1.5" fill="#0000c8" stroke="#000040" stroke-width="0.45"/>
<circle cx="369.9" cy="290.9" r="1.5" fill="#0000c8" stroke="#000040" stroke-width="0.45"/>
<circle cx="369.5" cy="287.0" r="1.5" fill="#0000c8" stroke="#000040" stroke-width="0.45"/>
<circle cx="369.4" cy="276.9" r="1.5" fill="#0000c8" stroke="#000040" stroke-width="0.45"/>
<circle cx="370.1" cy="270.1" r="1.5" fill="#0000c8" stroke="#000040" stroke-width="0.45"/>
<circle cx="375.8" cy="294.2" r="1.5" fill="#0000c8" stroke="#000040" stroke-width="0.45"/>
<circle cx="370.8" cy="297.8" r="1.5" fill="#0000c8" stroke="#000040" stroke-width="0.45"/>
<circle cx="370.1" cy="275.7" r="1.5" fill="#0000c8" stroke="#000040" stroke-width="0.45"/>
<circle cx="374.9" cy="286.9" r="1.5" fill="#0000c8" stroke="#000040" stroke-width="0.45"/>
<circle cx="369.3" cy="302.5" r="1.5" fill="#0000c8" stroke="#000040" stroke-width="0.45"/>
<circle cx="378.1" cy="262.4" r="1.5" fill="#d80000" stroke="#500000" stroke-width="0.45"/>
<circle cx="380.2" cy="263.9" r="1.5" fill="#d80000" stroke="#500000" stroke-width="0.45"/>
<circle cx="378.4" cy="258.5" r="1.5" fill="#d80000" stroke="#500000" stroke-width="0.45"/>
<circle cx="377.6" cy="269.2" r="1.5" fill="#d80000" stroke="#500000" stroke-width="0.45"/>
<circle cx="378.2" cy="269.6" r="1.5" fill="#d80000" stroke="#500000" stroke-width="0.45"/>
<circle cx="378.7" cy="266.5" r="1.5" fill="#d80000" stroke="#500000" stroke-width="0.45"/>
<circle cx="380.8" cy="267.2" r="1.5" fill="#d80000" stroke="#500000" stroke-width="0.45"/>
<circle cx="379.4" cy="275.2" r="1.5" fill="#d80000" stroke="#500000" stroke-width="0.45"/>
<circle cx="378.0" cy="260.2" r="1.5" fill="#d80000" stroke="#500000" stroke-width="0.45"/>
<circle cx="380.7" cy="274.2" r="1.5" fill="#d80000" stroke="#500000" stroke-width="0.45"/>
<circle cx="378.2" cy="261.0" r="1.5" fill="#d80000" stroke="#500000" stroke-width="0.45"/>
<circle cx="380.0" cy="276.7" r="1.5" fill="#d80000" stroke="#500000" stroke-width="0.45"/>
<circle cx="378.0" cy="277.0" r="1.5" fill="#d80000" stroke="#500000" stroke-width="0.45"/>
<circle cx="380.6" cy="269.7" r="1.5" fill="#d80000" stroke="#500000" stroke-width="0.45"/>
<circle cx="378.9" cy="259.2" r="1.5" fill="#d80000" stroke="#500000" stroke-width="0.45"/>
<circle cx="377.4" cy="277.2" r="1.5" fill="#d80000" stroke="#500000" stroke-width="0.45"/>
<circle cx="365.8" cy="266.5" r="1.5" fill="#0000c8" stroke="#000040" stroke-width="0.45"/>
<circle cx="365.9" cy="267.1" r="1.5" fill="#0000c8" stroke="#000040" stroke-width="0.45"/>
<circle cx="367.8" cy="264.5" r="1.5" fill="#0000c8" stroke="#000040" stroke-width="0.45"/>
<circle cx="365.5" cy="266.6" r="1.5" fill="#0000c8" stroke="#000040" stroke-width="0.45"/>
<circle cx="364.9" cy="264.1" r="1.5" fill="#0000c8" stroke="#000040" stroke-width="0.45"/>
<circle cx="383.8" cy="286.7" r="1.5" fill="#0000c8" stroke="#000040" stroke-width="0.45"/>
<circle cx="384.1" cy="270.1" r="1.5" fill="#0000c8" stroke="#000040" stroke-width="0.45"/>
<circle cx="385.6" cy="267.9" r="1.5" fill="#0000c8" stroke="#000040" stroke-width="0.45"/>
<circle cx="381.1" cy="269.8" r="1.5" fill="#0000c8" stroke="#000040" stroke-width="0.45"/>
<circle cx="383.2" cy="263.8" r="1.5" fill="#0000c8" stroke="#000040" stroke-width="0.45"/>
<circle cx="381.9" cy="272.7" r="1.5" fill="#0000c8" stroke="#000040" stroke-width="0.45"/>
<circle cx="383.9" cy="265.8" r="1.5" fill="#0000c8" stroke="#000040" stroke-width="0.45"/>
<circle cx="382.8" cy="287.8" r="1.5" fill="#0000c8" stroke="#000040" stroke-width="0.45"/>
<circle cx="385.9" cy="281.1" r="1.5" fill="#0000c8" stroke="#000040" stroke-width="0.45"/>
<circle cx="384.5" cy="278.9" r="1.5" fill="#0000c8" stroke="#000040" stroke-width="0.45"/>
<circle cx="381.7" cy="263.0" r="1.5" fill="#0000c8" stroke="#000040" stroke-width="0.45"/>
<circle cx="381.1" cy="288.4" r="1.5" fill="#0000c8" stroke="#000040" stroke-width="0.45"/>
<circle cx="384.5" cy="289.9" r="1.5" fill="#0000c8" stroke="#000040" stroke-width="0.45"/>
<circle cx="381.1" cy="280.4" r="1.5" fill="#0000c8" stroke="#000040" stroke-width="0.45"/>
<circle cx="368.9" cy="297.3" r="1.5" fill="#d80000" stroke="#500000" stroke-width="0.45"/>
<circle cx="367.7" cy="304.0" r="1.5" fill="#d80000" stroke="#500000" stroke-width="0.45"/>
<circle cx="366.0" cy="292.7" r="1.5" fill="#d80000" stroke="#500000" stroke-width="0.45"/>
<circle cx="370.7" cy="301.5" r="1.5" fill="#d80000" stroke="#500000" stroke-width="0.45"/>
<circle cx="370.7" cy="296.6" r="1.5" fill="#d80000" stroke="#500000" stroke-width="0.45"/>
<circle cx="371.1" cy="301.9" r="1.5" fill="#d80000" stroke="#500000" stroke-width="0.45"/>
<circle cx="368.0" cy="296.1" r="1.5" fill="#d80000" stroke="#500000" stroke-width="0.45"/>
<circle cx="371.8" cy="300.8" r="1.5" fill="#d80000" stroke="#500000" stroke-width="0.45"/>
<circle cx="368.4" cy="298.8" r="1.5" fill="#d80000" stroke="#500000" stroke-width="0.45"/>
<circle cx="371.5" cy="293.3" r="1.5" fill="#d80000" stroke="#500000" stroke-width="0.45"/>
<circle cx="369.9" cy="288.6" r="1.5" fill="#d80000" stroke="#500000" stroke-width="0.45"/>
<circle cx="369.6" cy="294.2" r="1.5" fill="#d80000" stroke="#500000" stroke-width="0.45"/>
<circle cx="366.1" cy="295.0" r="1.5" fill="#d80000" stroke="#500000" stroke-width="0.45"/>
<circle cx="372.5" cy="301.0" r="1.5" fill="#d80000" stroke="#500000" stroke-width="0.45"/>
<circle cx="370.6" cy="288.7" r="1.5" fill="#d80000" stroke="#500000" stroke-width="0.45"/>
<circle cx="370.6" cy="293.5" r="1.5" fill="#d80000" stroke="#500000" stroke-width="0.45"/>
<circle cx="368.6" cy="300.0" r="1.5" fill="#d80000" stroke="#500000" stroke-width="0.45"/>
<circle cx="366.1" cy="297.8" r="1.5" fill="#d80000" stroke="#500000" stroke-width="0.45"/>
<circle cx="365.7" cy="294.0" r="1.5" fill="#d80000" stroke="#500000" stroke-width="0.45"/>
<circle cx="368.9" cy="284.8" r="1.5" fill="#d80000" stroke="#500000" stroke-width="0.45"/>
<circle cx="374.5" cy="294.9" r="1.5" fill="#0000c8" stroke="#000040" stroke-width="0.45"/>
<circle cx="373.6" cy="303.4" r="1.5" fill="#0000c8" stroke="#000040" stroke-width="0.45"/>
<circle cx="369.4" cy="285.2" r="1.5" fill="#0000c8" stroke="#000040" stroke-width="0.45"/>
<circle cx="370.0" cy="298.6" r="1.5" fill="#0000c8" stroke="#000040" stroke-width="0.45"/>
<circle cx="368.8" cy="288.4" r="1.5" fill="#0000c8" stroke="#000040" stroke-width="0.45"/>
<circle cx="376.9" cy="298.2" r="1.5" fill="#0000c8" stroke="#000040" stroke-width="0.45"/>
<circle cx="371.6" cy="302.8" r="1.5" fill="#0000c8" stroke="#000040" stroke-width="0.45"/>
<circle cx="370.3" cy="298.3" r="1.5" fill="#0000c8" stroke="#000040" stroke-width="0.45"/>
<circle cx="368.8" cy="293.6" r="1.5" fill="#0000c8" stroke="#000040" stroke-width="0.45"/>
<circle cx="375.8" cy="303.3" r="1.5" fill="#0000c8" stroke="#000040" stroke-width="0.45"/>
<circle cx="376.6" cy="292.7" r="1.5" fill="#0000c8" stroke="#000040" stroke-width="0.45"/>
<circle cx="373.2" cy="291.3" r="1.5" fill="#0000c8" stroke="#000040" stroke-width="0.45"/>
<circle cx="368.1" cy="294.9" r="1.5" fill="#0000c8" stroke="#000040" stroke-width="0.45"/>
<circle cx="376.1" cy="302.0" r="1.5" fill="#0000c8" stroke="#000040" stroke-width="0.45"/>
<circle cx="374.7" cy="304.0" r="1.5" fill="#0000c8" stroke="#000040" stroke-width="0.45"/>
<circle cx="369.7" cy="288.4" r="1.5" fill="#0000c8" stroke="#000040" stroke-width="0.45"/>
<circle cx="371.7" cy="290.5" r="1.5" fill="#0000c8" stroke="#000040" stroke-width="0.45"/>
<circle cx="369.0" cy="293.3" r="1.5" fill="#0000c8" stroke="#000040" stroke-width="0.45"/>
<circle cx="378.5" cy="287.9" r="1.5" fill="#0000c8" stroke="#000040" stroke-width="0.45"/>
<circle cx="377.3" cy="293.4" r="1.5" fill="#0000c8" stroke="#000040" stroke-width="0.45"/>
<circle cx="379.9" cy="287.2" r="1.5" fill="#0000c8" stroke="#000040" stroke-width="0.45"/>
<circle cx="376.3" cy="280.5" r="1.5" fill="#0000c8" stroke="#000040" stroke-width="0.45"/>
<circle cx="379.5" cy="280.7" r="1.5" fill="#0000c8" stroke="#000040" stroke-width="0.45"/>
<circle cx="378.8" cy="289.1" r="1.5" fill="#0000c8" stroke="#000040" stroke-width="0.45"/>
<circle cx="377.2" cy="292.7" r="1.5" fill="#0000c8" stroke="#000040" stroke-width="0.45"/>
<circle cx="376.1" cy="282.2" r="1.5" fill="#0000c8" stroke="#000040" stroke-width="0.45"/>
<circle cx="377.8" cy="280.4" r="1.5" fill="#0000c8" stroke="#000040" stroke-width="0.45"/>
<circle cx="379.3" cy="283.8" r="1.5" fill="#0000c8" stroke="#000040" stroke-width="0.45"/>
<circle cx="369.0" cy="249.4" r="1.5" fill="#0000c8" stroke="#000040" stroke-width="0.45"/>
<circle cx="372.9" cy="248.9" r="1.5" fill="#0000c8" stroke="#000040" stroke-width="0.45"/>
<circle cx="376.3" cy="252.5" r="1.5" fill="#0000c8" stroke="#000040" stroke-width="0.45"/>
<circle cx="383.0" cy="253.5" r="1.5" fill="#0000c8" stroke="#000040" stroke-width="0.45"/>
<circle cx="372.6" cy="255.6" r="1.5" fill="#0000c8" stroke="#000040" stroke-width="0.45"/>
<circle cx="370.0" cy="258.2" r="1.5" fill="#0000c8" stroke="#000040" stroke-width="0.45"/>
<circle cx="374.2" cy="259.3" r="1.5" fill="#0000c8" stroke="#000040" stroke-width="0.45"/>
<circle cx="378.3" cy="257.2" r="1.5" fill="#d80000" stroke="#500000" stroke-width="0.45"/>
<circle cx="379.9" cy="259.3" r="1.5" fill="#d80000" stroke="#500000" stroke-width="0.45"/>
<circle cx="383.0" cy="259.8" r="1.5" fill="#0000c8" stroke="#000040" stroke-width="0.45"/>
<circle cx="364.8" cy="265.0" r="1.5" fill="#0000c8" stroke="#000040" stroke-width="0.45"/>
<circle cx="367.9" cy="266.0" r="1.5" fill="#0000c8" stroke="#000040" stroke-width="0.45"/>
<circle cx="372.1" cy="264.0" r="1.5" fill="#0000c8" stroke="#000040" stroke-width="0.45"/>
<circle cx="375.2" cy="261.9" r="1.5" fill="#0000c8" stroke="#000040" stroke-width="0.45"/>
<circle cx="378.3" cy="261.9" r="1.5" fill="#d80000" stroke="#500000" stroke-width="0.45"/>
<circle cx="379.4" cy="264.0" r="1.5" fill="#d80000" stroke="#500000" stroke-width="0.45"/>
<circle cx="380.9" cy="267.1" r="1.5" fill="#d80000" stroke="#500000" stroke-width="0.45"/>
<circle cx="384.6" cy="265.0" r="1.5" fill="#0000c8" stroke="#000040" stroke-width="0.45"/>
<circle cx="386.1" cy="271.3" r="1.5" fill="#0000c8" stroke="#000040" stroke-width="0.45"/>
<circle cx="385.6" cy="275.4" r="1.5" fill="#0000c8" stroke="#000040" stroke-width="0.45"/>
<circle cx="365.3" cy="275.9" r="1.5" fill="#0000c8" stroke="#000040" stroke-width="0.45"/>
<circle cx="370.0" cy="269.2" r="1.5" fill="#0000c8" stroke="#000040" stroke-width="0.45"/>
<circle cx="372.1" cy="273.3" r="1.5" fill="#0000c8" stroke="#000040" stroke-width="0.45"/>
<circle cx="374.2" cy="271.3" r="1.5" fill="#0000c8" stroke="#000040" stroke-width="0.45"/>
<circle cx="371.0" cy="277.5" r="1.5" fill="#0000c8" stroke="#000040" stroke-width="0.45"/>
<circle cx="379.4" cy="271.3" r="1.5" fill="#d80000" stroke="#500000" stroke-width="0.45"/>
<circle cx="380.4" cy="274.4" r="1.5" fill="#d80000" stroke="#500000" stroke-width="0.45"/>
<circle cx="382.5" cy="272.3" r="1.5" fill="#d80000" stroke="#500000" stroke-width="0.45"/>
<circle cx="382.5" cy="277.5" r="1.5" fill="#0000c8" stroke="#000040" stroke-width="0.45"/>
<circle cx="378.3" cy="279.6" r="1.5" fill="#0000c8" stroke="#000040" stroke-width="0.45"/>
<circle cx="367.9" cy="280.6" r="1.5" fill="#d80000" stroke="#500000" stroke-width="0.45"/>
<circle cx="376.3" cy="280.6" r="1.5" fill="#d80000" stroke="#500000" stroke-width="0.45"/>
<circle cx="366.9" cy="282.7" r="1.5" fill="#d80000" stroke="#500000" stroke-width="0.45"/>
<circle cx="371.0" cy="281.7" r="1.5" fill="#0000c8" stroke="#000040" stroke-width="0.45"/>
<circle cx="365.8" cy="276.0" r="1.5" fill="#0000c8" stroke="#000040" stroke-width="0.45"/>
<circle cx="370.0" cy="279.2" r="1.5" fill="#0000c8" stroke="#000040" stroke-width="0.45"/>
<circle cx="372.1" cy="276.0" r="1.5" fill="#0000c8" stroke="#000040" stroke-width="0.45"/>
<circle cx="376.3" cy="279.2" r="1.5" fill="#0000c8" stroke="#000040" stroke-width="0.45"/>
<circle cx="380.4" cy="278.1" r="1.5" fill="#0000c8" stroke="#000040" stroke-width="0.45"/>
<circle cx="384.6" cy="276.0" r="1.5" fill="#0000c8" stroke="#000040" stroke-width="0.45"/>
<circle cx="369.0" cy="285.4" r="1.5" fill="#0000c8" stroke="#000040" stroke-width="0.45"/>
<circle cx="373.1" cy="284.4" r="1.5" fill="#0000c8" stroke="#000040" stroke-width="0.45"/>
<circle cx="378.3" cy="283.3" r="1.5" fill="#0000c8" stroke="#000040" stroke-width="0.45"/>
<circle cx="381.5" cy="281.3" r="1.5" fill="#0000c8" stroke="#000040" stroke-width="0.45"/>
<circle cx="367.9" cy="291.7" r="1.5" fill="#0000c8" stroke="#000040" stroke-width="0.45"/>
<circle cx="372.1" cy="290.6" r="1.5" fill="#0000c8" stroke="#000040" stroke-width="0.45"/>
<circle cx="376.3" cy="289.6" r="1.5" fill="#0000c8" stroke="#000040" stroke-width="0.45"/>
<circle cx="380.4" cy="290.6" r="1.5" fill="#0000c8" stroke="#000040" stroke-width="0.45"/>
<circle cx="369.0" cy="296.9" r="1.5" fill="#0000c8" stroke="#000040" stroke-width="0.45"/>
<circle cx="375.2" cy="295.8" r="1.5" fill="#0000c8" stroke="#000040" stroke-width="0.45"/>
<circle cx="378.3" cy="294.8" r="1.5" fill="#0000c8" stroke="#000040" stroke-width="0.45"/>
<circle cx="370.0" cy="302.1" r="1.5" fill="#0000c8" stroke="#000040" stroke-width="0.45"/>
<circle cx="369.0" cy="304.7" r="1.5" fill="#0000c8" stroke="#000040" stroke-width="0.45"/>
<circle cx="367.9" cy="300.0" r="1.5" fill="#0000c8" stroke="#000040" stroke-width="0.45"/>
<circle cx="366.9" cy="282.3" r="1.5" fill="#d80000" stroke="#500000" stroke-width="0.45"/>
<circle cx="366.9" cy="288.5" r="1.5" fill="#d80000" stroke="#500000" stroke-width="0.45"/>
<circle cx="375.2" cy="285.4" r="1.5" fill="#d80000" stroke="#500000" stroke-width="0.45"/>
<circle cx="376.3" cy="281.3" r="1.5" fill="#d80000" stroke="#500000" stroke-width="0.45"/>
<circle cx="373.1" cy="291.7" r="1.5" fill="#d80000" stroke="#500000" stroke-width="0.45"/>
<circle cx="374.2" cy="296.9" r="1.5" fill="#d80000" stroke="#500000" stroke-width="0.45"/>
<circle cx="379.4" cy="285.4" r="1.5" fill="#d80000" stroke="#500000" stroke-width="0.45"/>
<circle cx="367.4" cy="296.9" r="1.5" fill="#d80000" stroke="#500000" stroke-width="0.45"/>
<circle cx="367.9" cy="303.1" r="1.5" fill="#d80000" stroke="#500000" stroke-width="0.45"/>
<circle cx="375.2" cy="305.2" r="1.5" fill="#d80000" stroke="#500000" stroke-width="0.45"/>
<circle cx="371.0" cy="293.8" r="1.5" fill="#d80000" stroke="#500000" stroke-width="0.45"/>
<circle cx="368.0" cy="262.0" r="1.5" fill="#0000c8" stroke="#000040" stroke-width="0.45"/>
<circle cx="377.0" cy="266.0" r="1.5" fill="#0000c8" stroke="#000040" stroke-width="0.45"/>
<circle cx="383.0" cy="269.0" r="1.5" fill="#0000c8" stroke="#000040" stroke-width="0.45"/>
<circle cx="366.0" cy="270.0" r="1.5" fill="#0000c8" stroke="#000040" stroke-width="0.45"/>
<circle cx="363.7" cy="285.0" r="1.5" fill="#0000c8" stroke="#000040" stroke-width="0.45"/>
<circle cx="365.0" cy="292.0" r="1.5" fill="#0000c8" stroke="#000040" stroke-width="0.45"/>
<circle cx="382.0" cy="286.0" r="1.5" fill="#0000c8" stroke="#000040" stroke-width="0.45"/>
<circle cx="380.0" cy="296.0" r="1.5" fill="#0000c8" stroke="#000040" stroke-width="0.45"/>
<circle cx="372.0" cy="299.0" r="1.5" fill="#0000c8" stroke="#000040" stroke-width="0.45"/>
<circle cx="363.8" cy="310.9" r="1.5" fill="#d80000" stroke="#500000" stroke-width="0.45"/>
<circle cx="375.2" cy="308.9" r="1.5" fill="#0000c8" stroke="#000040" stroke-width="0.45"/>
<path d="M392.00,267.80L401.40,267.80L396.70,274.80Z" fill="#fff" stroke="#111" stroke-width="1.15" stroke-linejoin="miter"/>
<path d="M389.60,273.00L399.00,273.00L394.30,280.00Z" fill="#fff" stroke="#111" stroke-width="1.15" stroke-linejoin="miter"/>
<path d="M391.80,274.50L401.20,274.50L396.50,281.50Z" fill="#fff" stroke="#111" stroke-width="1.15" stroke-linejoin="miter"/>
<path d="M394.00,276.00L403.40,276.00L398.70,283.00Z" fill="#fff" stroke="#111" stroke-width="1.15" stroke-linejoin="miter"/>
<path d="M372.10,298.30L381.50,298.30L376.80,305.30Z" fill="#fff" stroke="#111" stroke-width="1.15" stroke-linejoin="miter"/>
<path d="M382.80,289.00L392.20,289.00L387.50,296.00Z" fill="#fff" stroke="#111" stroke-width="1.15" stroke-linejoin="miter"/>
<path d="M393.40,286.30L402.80,286.30L398.10,293.30Z" fill="#fff" stroke="#111" stroke-width="1.15" stroke-linejoin="miter"/>
<path d="M393.10,290.40L402.50,290.40L397.80,297.40Z" fill="#fff" stroke="#111" stroke-width="1.15" stroke-linejoin="miter"/>
<path d="M394.90,290.40L404.30,290.40L399.60,297.40Z" fill="#fff" stroke="#111" stroke-width="1.15" stroke-linejoin="miter"/>
<path d="M396.80,290.40L406.20,290.40L401.50,297.40Z" fill="#fff" stroke="#111" stroke-width="1.15" stroke-linejoin="miter"/>
<path d="M418.80,288.60L428.20,288.60L423.50,295.60Z" fill="#fff" stroke="#111" stroke-width="1.15" stroke-linejoin="miter"/>
<path d="M440.90,285.20L450.30,285.20L445.60,292.20Z" fill="#fff" stroke="#111" stroke-width="1.15" stroke-linejoin="miter"/>
<path d="M461.00,286.90L470.40,286.90L465.70,293.90Z" fill="#fff" stroke="#111" stroke-width="1.15" stroke-linejoin="miter"/>
<path d="M348.30,342.90L357.70,342.90L353.00,349.90Z" fill="#fff" stroke="#111" stroke-width="1.15" stroke-linejoin="miter"/>
<path d="M357.80,342.90L367.20,342.90L362.50,349.90Z" fill="#fff" stroke="#111" stroke-width="1.15" stroke-linejoin="miter"/>
<path d="M368.00,344.50L377.40,344.50L372.70,351.50Z" fill="#fff" stroke="#111" stroke-width="1.15" stroke-linejoin="miter"/>
<path d="M378.70,346.80L388.10,346.80L383.40,353.80Z" fill="#fff" stroke="#111" stroke-width="1.15" stroke-linejoin="miter"/>
<path d="M398.10,341.90L407.50,341.90L402.80,348.90Z" fill="#fff" stroke="#111" stroke-width="1.15" stroke-linejoin="miter"/>
</svg></body></html>
